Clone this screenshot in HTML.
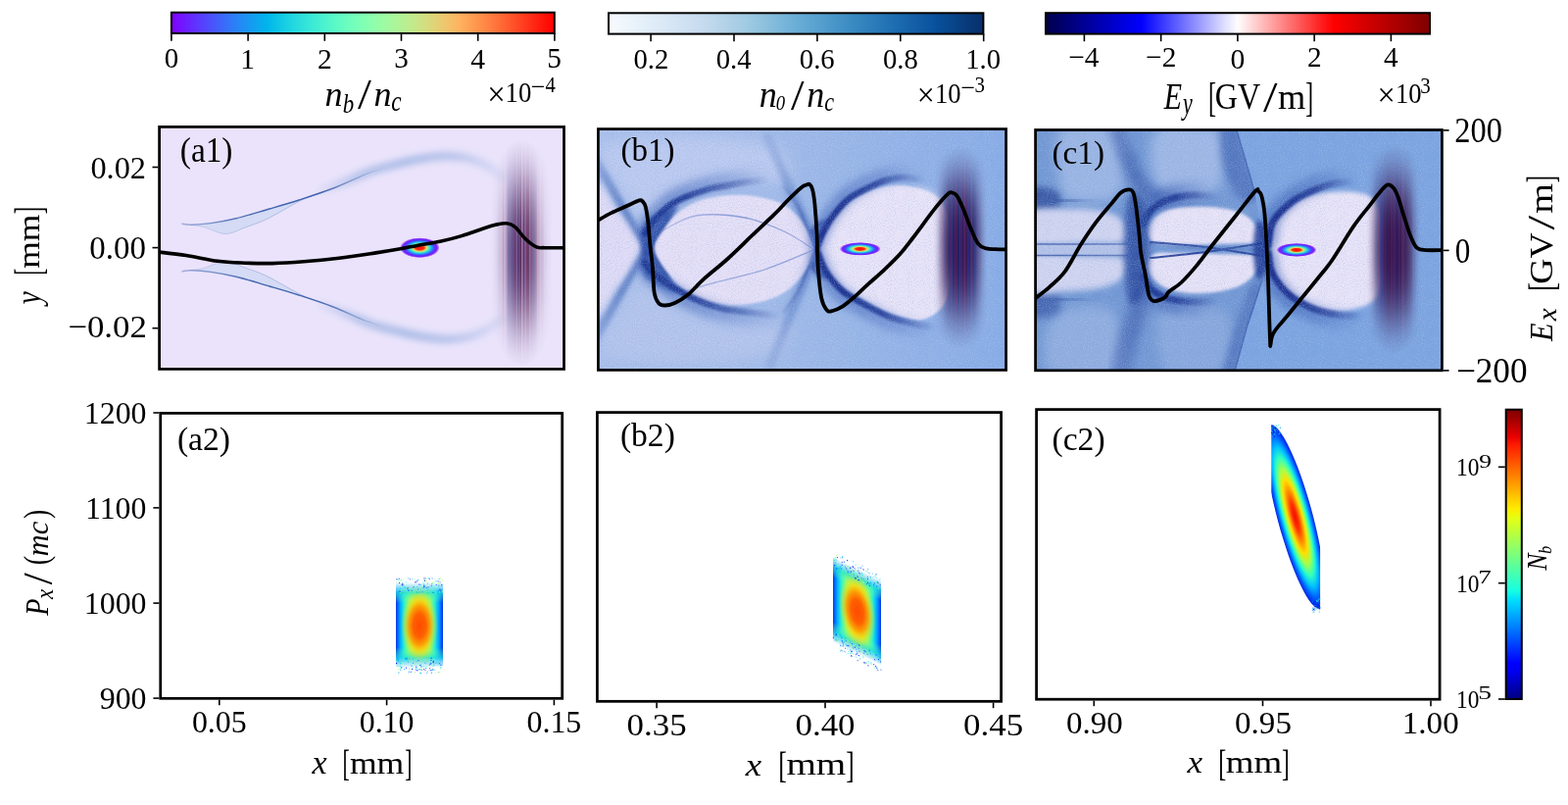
<!DOCTYPE html><html><head><meta charset="utf-8"><title>Figure</title><style>html,body{margin:0;padding:0;background:#fff;overflow:hidden}svg{display:block}</style></head><body>
<svg width="1600" height="821" viewBox="0 0 1600 821" font-family="'Liberation Serif', serif">
<defs>
<linearGradient id="g_rb" x1="0" y1="0" x2="1" y2="0"><stop offset="0.0000" stop-color="#8000ff"/><stop offset="0.0312" stop-color="#7019ff"/><stop offset="0.0625" stop-color="#6032fe"/><stop offset="0.0938" stop-color="#504afc"/><stop offset="0.1250" stop-color="#4062fa"/><stop offset="0.1562" stop-color="#3079f7"/><stop offset="0.1875" stop-color="#208ef4"/><stop offset="0.2188" stop-color="#10a2f0"/><stop offset="0.2500" stop-color="#00b5eb"/><stop offset="0.2812" stop-color="#10c6e6"/><stop offset="0.3125" stop-color="#20d5e1"/><stop offset="0.3438" stop-color="#30e1da"/><stop offset="0.3750" stop-color="#40ecd4"/><stop offset="0.4062" stop-color="#50f4cc"/><stop offset="0.4375" stop-color="#60fac5"/><stop offset="0.4688" stop-color="#70febc"/><stop offset="0.5000" stop-color="#80ffb4"/><stop offset="0.5312" stop-color="#90feab"/><stop offset="0.5625" stop-color="#a0faa1"/><stop offset="0.5938" stop-color="#b0f397"/><stop offset="0.6250" stop-color="#c0eb8d"/><stop offset="0.6562" stop-color="#d0e082"/><stop offset="0.6875" stop-color="#e0d377"/><stop offset="0.7188" stop-color="#f0c46c"/><stop offset="0.7500" stop-color="#ffb360"/><stop offset="0.7812" stop-color="#ffa055"/><stop offset="0.8125" stop-color="#ff8c49"/><stop offset="0.8438" stop-color="#ff763d"/><stop offset="0.8750" stop-color="#ff5f30"/><stop offset="0.9062" stop-color="#ff4724"/><stop offset="0.9375" stop-color="#ff2f18"/><stop offset="0.9688" stop-color="#ff160b"/><stop offset="1.0000" stop-color="#ff0000"/></linearGradient>
<linearGradient id="g_bl" x1="0" y1="0" x2="1" y2="0"><stop offset="0.0000" stop-color="#f7fbff"/><stop offset="0.0312" stop-color="#f1f7fd"/><stop offset="0.0625" stop-color="#eaf3fb"/><stop offset="0.0938" stop-color="#e4eff9"/><stop offset="0.1250" stop-color="#deebf7"/><stop offset="0.1562" stop-color="#d8e7f5"/><stop offset="0.1875" stop-color="#d2e3f3"/><stop offset="0.2188" stop-color="#ccdff1"/><stop offset="0.2500" stop-color="#c6dbef"/><stop offset="0.2812" stop-color="#bcd7eb"/><stop offset="0.3125" stop-color="#b2d2e8"/><stop offset="0.3438" stop-color="#a8cee4"/><stop offset="0.3750" stop-color="#9dcae1"/><stop offset="0.4062" stop-color="#91c3de"/><stop offset="0.4375" stop-color="#84bcdb"/><stop offset="0.4688" stop-color="#77b5d9"/><stop offset="0.5000" stop-color="#6aaed6"/><stop offset="0.5312" stop-color="#60a7d2"/><stop offset="0.5625" stop-color="#56a0ce"/><stop offset="0.5938" stop-color="#4b98ca"/><stop offset="0.6250" stop-color="#4191c6"/><stop offset="0.6562" stop-color="#3989c1"/><stop offset="0.6875" stop-color="#3181bd"/><stop offset="0.7188" stop-color="#2979b9"/><stop offset="0.7500" stop-color="#2070b4"/><stop offset="0.7812" stop-color="#1a68ae"/><stop offset="0.8125" stop-color="#1460a8"/><stop offset="0.8438" stop-color="#0e58a2"/><stop offset="0.8750" stop-color="#08509b"/><stop offset="0.9062" stop-color="#08488e"/><stop offset="0.9375" stop-color="#084082"/><stop offset="0.9688" stop-color="#083776"/><stop offset="1.0000" stop-color="#08306b"/></linearGradient>
<linearGradient id="g_se" x1="0" y1="0" x2="1" y2="0"><stop offset="0.0000" stop-color="#00004c"/><stop offset="0.0312" stop-color="#000063"/><stop offset="0.0625" stop-color="#000079"/><stop offset="0.0938" stop-color="#000090"/><stop offset="0.1250" stop-color="#0000a6"/><stop offset="0.1562" stop-color="#0000bc"/><stop offset="0.1875" stop-color="#0000d3"/><stop offset="0.2188" stop-color="#0000e9"/><stop offset="0.2500" stop-color="#0101ff"/><stop offset="0.2812" stop-color="#2121ff"/><stop offset="0.3125" stop-color="#4141ff"/><stop offset="0.3438" stop-color="#6161ff"/><stop offset="0.3750" stop-color="#8181ff"/><stop offset="0.4062" stop-color="#a1a1ff"/><stop offset="0.4375" stop-color="#c1c1ff"/><stop offset="0.4688" stop-color="#e1e1ff"/><stop offset="0.5000" stop-color="#fffdfd"/><stop offset="0.5312" stop-color="#ffdddd"/><stop offset="0.5625" stop-color="#ffbdbd"/><stop offset="0.5938" stop-color="#ff9d9d"/><stop offset="0.6250" stop-color="#ff7d7d"/><stop offset="0.6562" stop-color="#ff5d5d"/><stop offset="0.6875" stop-color="#ff3d3d"/><stop offset="0.7188" stop-color="#ff1d1d"/><stop offset="0.7500" stop-color="#fe0000"/><stop offset="0.7812" stop-color="#ee0000"/><stop offset="0.8125" stop-color="#de0000"/><stop offset="0.8438" stop-color="#ce0000"/><stop offset="0.8750" stop-color="#be0000"/><stop offset="0.9062" stop-color="#ae0000"/><stop offset="0.9375" stop-color="#9e0000"/><stop offset="0.9688" stop-color="#8e0000"/><stop offset="1.0000" stop-color="#800000"/></linearGradient>
<linearGradient id="g_jet" x1="0" y1="1" x2="0" y2="0"><stop offset="0.0000" stop-color="#000080"/><stop offset="0.0312" stop-color="#0000a4"/><stop offset="0.0625" stop-color="#0000c8"/><stop offset="0.0938" stop-color="#0000ed"/><stop offset="0.1250" stop-color="#0000ff"/><stop offset="0.1562" stop-color="#0020ff"/><stop offset="0.1875" stop-color="#0040ff"/><stop offset="0.2188" stop-color="#0060ff"/><stop offset="0.2500" stop-color="#0080ff"/><stop offset="0.2812" stop-color="#00a0ff"/><stop offset="0.3125" stop-color="#00c0ff"/><stop offset="0.3438" stop-color="#00e0fb"/><stop offset="0.3750" stop-color="#16ffe1"/><stop offset="0.4062" stop-color="#30ffc7"/><stop offset="0.4375" stop-color="#49ffad"/><stop offset="0.4688" stop-color="#63ff94"/><stop offset="0.5000" stop-color="#7dff7a"/><stop offset="0.5312" stop-color="#97ff60"/><stop offset="0.5625" stop-color="#b1ff46"/><stop offset="0.5938" stop-color="#caff2c"/><stop offset="0.6250" stop-color="#e4ff13"/><stop offset="0.6562" stop-color="#feed00"/><stop offset="0.6875" stop-color="#ffd000"/><stop offset="0.7188" stop-color="#ffb200"/><stop offset="0.7500" stop-color="#ff9400"/><stop offset="0.7812" stop-color="#ff7700"/><stop offset="0.8125" stop-color="#ff5900"/><stop offset="0.8438" stop-color="#ff3b00"/><stop offset="0.8750" stop-color="#ff1e00"/><stop offset="0.9062" stop-color="#e80000"/><stop offset="0.9375" stop-color="#c40000"/><stop offset="0.9688" stop-color="#9f0000"/><stop offset="1.0000" stop-color="#800000"/></linearGradient>
<clipPath id="cp_a1"><rect x="162.6" y="129.4" width="412.90" height="247.00"/></clipPath>
<clipPath id="cp_b1"><rect x="610.4" y="131.6" width="416.20" height="245.80"/></clipPath>
<clipPath id="cp_c1"><rect x="1056.6" y="132.5" width="414.80" height="245.30"/></clipPath>
<clipPath id="cp_a2"><rect x="163.75" y="421.4" width="409.95" height="290.90"/></clipPath>
<clipPath id="cp_b2"><rect x="609.4" y="420.6" width="412.20" height="294.70"/></clipPath>
<clipPath id="cp_c2"><rect x="1057.6" y="417.6" width="411.50" height="295.60"/></clipPath>
</defs>
<rect width="1600" height="821" fill="#fff"/>
<defs>
<filter id="bl0_6" x="-50%" y="-50%" width="200%" height="200%"><feGaussianBlur stdDeviation="0.6"/></filter>
<filter id="bl1" x="-50%" y="-50%" width="200%" height="200%"><feGaussianBlur stdDeviation="1"/></filter>
<filter id="bl1_5" x="-50%" y="-50%" width="200%" height="200%"><feGaussianBlur stdDeviation="1.5"/></filter>
<filter id="bl2" x="-50%" y="-50%" width="200%" height="200%"><feGaussianBlur stdDeviation="2"/></filter>
<filter id="bl3" x="-50%" y="-50%" width="200%" height="200%"><feGaussianBlur stdDeviation="3"/></filter>
<filter id="bl4" x="-50%" y="-50%" width="200%" height="200%"><feGaussianBlur stdDeviation="4"/></filter>
<filter id="bl5" x="-50%" y="-50%" width="200%" height="200%"><feGaussianBlur stdDeviation="5"/></filter>
<filter id="bl6" x="-50%" y="-50%" width="200%" height="200%"><feGaussianBlur stdDeviation="6"/></filter>
<filter id="bl8" x="-50%" y="-50%" width="200%" height="200%"><feGaussianBlur stdDeviation="8"/></filter>
<filter id="bl10" x="-50%" y="-50%" width="200%" height="200%"><feGaussianBlur stdDeviation="10"/></filter>
<filter id="bl14" x="-50%" y="-50%" width="200%" height="200%"><feGaussianBlur stdDeviation="14"/></filter>
<filter id="nzW" x="0" y="0" width="100%" height="100%"><feTurbulence type="fractalNoise" baseFrequency="0.95" numOctaves="1" seed="4"/><feColorMatrix type="matrix" values="0 0 0 0 0.82  0 0 0 0 0.88  0 0 0 0 1  3 0 0 0 -1.45"/><feGaussianBlur stdDeviation="0.5"/></filter>
<filter id="nzD" x="0" y="0" width="100%" height="100%"><feTurbulence type="fractalNoise" baseFrequency="0.95" numOctaves="1" seed="9"/><feColorMatrix type="matrix" values="0 0 0 0 0.2  0 0 0 0 0.35  0 0 0 0 0.7  -3 0 0 0 1.55"/><feGaussianBlur stdDeviation="0.5"/></filter>
</defs>
<g clip-path="url(#cp_a1)">
<rect x="162.6" y="129.4" width="412.9" height="246.99999999999997" fill="#eae3fb"/>
<linearGradient id="fa1" gradientUnits="userSpaceOnUse" x1="320" y1="197" x2="512" y2="180"><stop offset="0.000" stop-color="#a4b8e4" stop-opacity="0.0"/><stop offset="0.250" stop-color="#a4b8e4" stop-opacity="0.75"/><stop offset="0.500" stop-color="#a4b8e4" stop-opacity="0.85"/><stop offset="0.750" stop-color="#a4b8e4" stop-opacity="0.7"/><stop offset="1.000" stop-color="#a4b8e4" stop-opacity="0.2"/></linearGradient>
<path d="M320.0,197.0 C325.0,195.2 340.0,189.8 350.0,186.0 C360.0,182.2 370.0,177.3 380.0,174.0 C390.0,170.7 400.8,168.2 410.0,166.0 C419.2,163.8 427.2,162.2 435.0,161.0 C442.8,159.8 449.5,158.8 457.0,159.0 C464.5,159.2 473.3,160.3 480.0,162.0 C486.7,163.7 491.7,166.0 497.0,169.0 C502.3,172.0 509.5,178.2 512.0,180.0" fill="none" stroke="url(#fa1)" stroke-width="9" stroke-linecap="round" filter="url(#bl3)"/>
<linearGradient id="fa2" gradientUnits="userSpaceOnUse" x1="320" y1="308.0" x2="512" y2="325.0"><stop offset="0.000" stop-color="#a4b8e4" stop-opacity="0.0"/><stop offset="0.250" stop-color="#a4b8e4" stop-opacity="0.75"/><stop offset="0.500" stop-color="#a4b8e4" stop-opacity="0.85"/><stop offset="0.750" stop-color="#a4b8e4" stop-opacity="0.7"/><stop offset="1.000" stop-color="#a4b8e4" stop-opacity="0.2"/></linearGradient>
<path d="M320.0,308.0 C325.0,309.8 340.0,315.2 350.0,319.0 C360.0,322.8 370.0,327.7 380.0,331.0 C390.0,334.3 400.8,336.8 410.0,339.0 C419.2,341.2 427.2,342.8 435.0,344.0 C442.8,345.2 449.5,346.2 457.0,346.0 C464.5,345.8 473.3,344.7 480.0,343.0 C486.7,341.3 491.7,339.0 497.0,336.0 C502.3,333.0 509.5,326.8 512.0,325.0" fill="none" stroke="url(#fa2)" stroke-width="9" stroke-linecap="round" filter="url(#bl3)"/>
<path d="M186.0,228.2 C187.5,228.4 190.2,229.3 195.0,229.2 C199.8,229.1 207.3,228.7 215.0,227.6 C222.7,226.5 231.0,225.1 241.0,222.7 C251.0,220.3 264.3,216.1 275.0,213.0 C285.7,209.9 294.2,207.5 305.0,204.0 C315.8,200.5 328.8,196.3 340.0,192.0 C351.2,187.7 362.8,181.8 372.0,178.3 C381.2,174.8 391.2,172.2 395.0,171.0 L330.0,196.0 C326.3,197.3 317.5,199.5 308.0,204.0 C298.5,208.5 282.7,218.3 273.0,223.0 C263.3,227.7 257.2,229.4 250.0,232.0 C242.8,234.6 237.0,238.6 230.0,238.5 C223.0,238.4 213.8,233.1 208.0,231.6 C202.2,230.1 197.2,229.8 195.0,229.4 Z" fill="#d0d8f4" opacity="0.8"/>
<linearGradient id="fa3" gradientUnits="userSpaceOnUse" x1="330" y1="196" x2="195" y2="229.4"><stop offset="0.000" stop-color="#7890cc" stop-opacity="0.5"/><stop offset="0.500" stop-color="#7890cc" stop-opacity="0.6"/><stop offset="1.000" stop-color="#7890cc" stop-opacity="0.3"/></linearGradient>
<path d="M330.0,196.0 C326.3,197.3 317.5,199.5 308.0,204.0 C298.5,208.5 282.7,218.3 273.0,223.0 C263.3,227.7 257.2,229.4 250.0,232.0 C242.8,234.6 237.0,238.6 230.0,238.5 C223.0,238.4 213.8,233.1 208.0,231.6 C202.2,230.1 197.2,229.8 195.0,229.4" fill="none" stroke="url(#fa3)" stroke-width="0.8" stroke-linecap="round"/>
<linearGradient id="fa4" gradientUnits="userSpaceOnUse" x1="186" y1="228.2" x2="395" y2="171"><stop offset="0.000" stop-color="#3a5eac" stop-opacity="0.4"/><stop offset="0.333" stop-color="#3a5eac" stop-opacity="0.95"/><stop offset="0.667" stop-color="#3a5eac" stop-opacity="0.95"/><stop offset="1.000" stop-color="#3a5eac" stop-opacity="0.0"/></linearGradient>
<path d="M186.0,228.2 C187.5,228.4 190.2,229.3 195.0,229.2 C199.8,229.1 207.3,228.7 215.0,227.6 C222.7,226.5 231.0,225.1 241.0,222.7 C251.0,220.3 264.3,216.1 275.0,213.0 C285.7,209.9 294.2,207.5 305.0,204.0 C315.8,200.5 328.8,196.3 340.0,192.0 C351.2,187.7 362.8,181.8 372.0,178.3 C381.2,174.8 391.2,172.2 395.0,171.0" fill="none" stroke="url(#fa4)" stroke-width="1.4" stroke-linecap="round"/>
<path d="M186.0,276.8 C187.5,276.6 190.2,275.7 195.0,275.8 C199.8,275.9 207.3,276.3 215.0,277.4 C222.7,278.5 231.0,279.9 241.0,282.3 C251.0,284.7 264.3,288.9 275.0,292.0 C285.7,295.1 294.2,297.5 305.0,301.0 C315.8,304.5 328.8,308.7 340.0,313.0 C351.2,317.3 362.8,323.2 372.0,326.7 C381.2,330.2 391.2,332.8 395.0,334.0 L330.0,309.0 C326.3,307.7 317.5,305.5 308.0,301.0 C298.5,296.5 282.7,286.7 273.0,282.0 C263.3,277.3 257.2,275.6 250.0,273.0 C242.8,270.4 237.0,266.4 230.0,266.5 C223.0,266.6 213.8,271.9 208.0,273.4 C202.2,274.9 197.2,275.2 195.0,275.6 Z" fill="#d0d8f4" opacity="0.8"/>
<linearGradient id="fa5" gradientUnits="userSpaceOnUse" x1="330" y1="309.0" x2="195" y2="275.6"><stop offset="0.000" stop-color="#7890cc" stop-opacity="0.5"/><stop offset="0.500" stop-color="#7890cc" stop-opacity="0.6"/><stop offset="1.000" stop-color="#7890cc" stop-opacity="0.3"/></linearGradient>
<path d="M330.0,309.0 C326.3,307.7 317.5,305.5 308.0,301.0 C298.5,296.5 282.7,286.7 273.0,282.0 C263.3,277.3 257.2,275.6 250.0,273.0 C242.8,270.4 237.0,266.4 230.0,266.5 C223.0,266.6 213.8,271.9 208.0,273.4 C202.2,274.9 197.2,275.2 195.0,275.6" fill="none" stroke="url(#fa5)" stroke-width="0.8" stroke-linecap="round"/>
<linearGradient id="fa6" gradientUnits="userSpaceOnUse" x1="186" y1="276.8" x2="395" y2="334.0"><stop offset="0.000" stop-color="#3a5eac" stop-opacity="0.4"/><stop offset="0.333" stop-color="#3a5eac" stop-opacity="0.95"/><stop offset="0.667" stop-color="#3a5eac" stop-opacity="0.95"/><stop offset="1.000" stop-color="#3a5eac" stop-opacity="0.0"/></linearGradient>
<path d="M186.0,276.8 C187.5,276.6 190.2,275.7 195.0,275.8 C199.8,275.9 207.3,276.3 215.0,277.4 C222.7,278.5 231.0,279.9 241.0,282.3 C251.0,284.7 264.3,288.9 275.0,292.0 C285.7,295.1 294.2,297.5 305.0,301.0 C315.8,304.5 328.8,308.7 340.0,313.0 C351.2,317.3 362.8,323.2 372.0,326.7 C381.2,330.2 391.2,332.8 395.0,334.0" fill="none" stroke="url(#fa6)" stroke-width="1.4" stroke-linecap="round"/>
<linearGradient id="lgx_a1" x1="0" y1="0" x2="1" y2="0"><stop offset="0.000" stop-color="#fff" stop-opacity="0.000"/><stop offset="0.042" stop-color="#fff" stop-opacity="0.064"/><stop offset="0.083" stop-color="#fff" stop-opacity="0.151"/><stop offset="0.125" stop-color="#fff" stop-opacity="0.258"/><stop offset="0.167" stop-color="#fff" stop-opacity="0.382"/><stop offset="0.208" stop-color="#fff" stop-opacity="0.514"/><stop offset="0.250" stop-color="#fff" stop-opacity="0.645"/><stop offset="0.292" stop-color="#fff" stop-opacity="0.763"/><stop offset="0.333" stop-color="#fff" stop-opacity="0.860"/><stop offset="0.375" stop-color="#fff" stop-opacity="0.932"/><stop offset="0.417" stop-color="#fff" stop-opacity="0.976"/><stop offset="0.458" stop-color="#fff" stop-opacity="0.996"/><stop offset="0.500" stop-color="#fff" stop-opacity="1.000"/><stop offset="0.542" stop-color="#fff" stop-opacity="0.996"/><stop offset="0.583" stop-color="#fff" stop-opacity="0.976"/><stop offset="0.625" stop-color="#fff" stop-opacity="0.932"/><stop offset="0.667" stop-color="#fff" stop-opacity="0.860"/><stop offset="0.708" stop-color="#fff" stop-opacity="0.763"/><stop offset="0.750" stop-color="#fff" stop-opacity="0.645"/><stop offset="0.792" stop-color="#fff" stop-opacity="0.514"/><stop offset="0.833" stop-color="#fff" stop-opacity="0.382"/><stop offset="0.875" stop-color="#fff" stop-opacity="0.258"/><stop offset="0.917" stop-color="#fff" stop-opacity="0.151"/><stop offset="0.958" stop-color="#fff" stop-opacity="0.064"/><stop offset="1.000" stop-color="#fff" stop-opacity="0.000"/></linearGradient>
<radialGradient id="lgy_a1" cx="0.5" cy="0.5" r="0.5"><stop offset="0.000" stop-color="#fff" stop-opacity="1.000"/><stop offset="0.042" stop-color="#fff" stop-opacity="0.999"/><stop offset="0.083" stop-color="#fff" stop-opacity="0.994"/><stop offset="0.125" stop-color="#fff" stop-opacity="0.983"/><stop offset="0.167" stop-color="#fff" stop-opacity="0.967"/><stop offset="0.208" stop-color="#fff" stop-opacity="0.944"/><stop offset="0.250" stop-color="#fff" stop-opacity="0.915"/><stop offset="0.292" stop-color="#fff" stop-opacity="0.879"/><stop offset="0.333" stop-color="#fff" stop-opacity="0.836"/><stop offset="0.375" stop-color="#fff" stop-opacity="0.788"/><stop offset="0.417" stop-color="#fff" stop-opacity="0.735"/><stop offset="0.458" stop-color="#fff" stop-opacity="0.677"/><stop offset="0.500" stop-color="#fff" stop-opacity="0.617"/><stop offset="0.542" stop-color="#fff" stop-opacity="0.554"/><stop offset="0.583" stop-color="#fff" stop-opacity="0.490"/><stop offset="0.625" stop-color="#fff" stop-opacity="0.427"/><stop offset="0.667" stop-color="#fff" stop-opacity="0.365"/><stop offset="0.708" stop-color="#fff" stop-opacity="0.305"/><stop offset="0.750" stop-color="#fff" stop-opacity="0.249"/><stop offset="0.792" stop-color="#fff" stop-opacity="0.196"/><stop offset="0.833" stop-color="#fff" stop-opacity="0.147"/><stop offset="0.875" stop-color="#fff" stop-opacity="0.103"/><stop offset="0.917" stop-color="#fff" stop-opacity="0.064"/><stop offset="0.958" stop-color="#fff" stop-opacity="0.030"/><stop offset="1.000" stop-color="#fff" stop-opacity="0.000"/></radialGradient>
<mask id="lmx_a1" maskUnits="userSpaceOnUse" x="500" y="142" width="64" height="232"><rect x="500" y="142" width="64" height="232" fill="url(#lgx_a1)"/></mask>
<mask id="lmy_a1" maskUnits="userSpaceOnUse" x="488.8" y="142" width="86.4" height="232"><rect x="488.8" y="142" width="86.4" height="232" fill="url(#lgy_a1)"/></mask>
<g mask="url(#lmx_a1)"><g mask="url(#lmy_a1)" opacity="0.95">
<rect x="500" y="142" width="64" height="232" fill="#3e2660"/>
<rect x="500.00" y="142" width="0.96" height="232" fill="#a05070" opacity="0.65"/>
<rect x="500.96" y="142" width="0.84" height="232" fill="#6a3a80" opacity="0.65"/>
<rect x="501.81" y="142" width="1.39" height="232" fill="#7a2a50" opacity="0.65"/>
<rect x="503.19" y="142" width="1.37" height="232" fill="#6a3a80" opacity="0.65"/>
<rect x="504.56" y="142" width="0.99" height="232" fill="#5a2050" opacity="0.65"/>
<rect x="505.54" y="142" width="0.91" height="232" fill="#6a3a80" opacity="0.65"/>
<rect x="506.46" y="142" width="1.30" height="232" fill="#a05070" opacity="0.65"/>
<rect x="507.75" y="142" width="1.22" height="232" fill="#3a3a88" opacity="0.65"/>
<rect x="508.97" y="142" width="0.96" height="232" fill="#3a3a88" opacity="0.65"/>
<rect x="509.93" y="142" width="1.65" height="232" fill="#a05070" opacity="0.65"/>
<rect x="511.58" y="142" width="1.13" height="232" fill="#d090c0" opacity="0.65"/>
<rect x="512.71" y="142" width="1.44" height="232" fill="#7a2a50" opacity="0.65"/>
<rect x="514.15" y="142" width="0.88" height="232" fill="#d090c0" opacity="0.65"/>
<rect x="515.03" y="142" width="1.03" height="232" fill="#d090c0" opacity="0.65"/>
<rect x="516.06" y="142" width="1.61" height="232" fill="#9a6aa8" opacity="0.65"/>
<rect x="517.67" y="142" width="1.22" height="232" fill="#2a2a70" opacity="0.65"/>
<rect x="518.89" y="142" width="1.49" height="232" fill="#2a2a70" opacity="0.65"/>
<rect x="520.37" y="142" width="1.13" height="232" fill="#6a3a80" opacity="0.65"/>
<rect x="521.51" y="142" width="1.76" height="232" fill="#3a3a88" opacity="0.65"/>
<rect x="523.27" y="142" width="1.67" height="232" fill="#7a2a50" opacity="0.65"/>
<rect x="524.93" y="142" width="0.74" height="232" fill="#6a3a80" opacity="0.65"/>
<rect x="525.67" y="142" width="0.94" height="232" fill="#2a2a70" opacity="0.65"/>
<rect x="526.61" y="142" width="1.56" height="232" fill="#9a6aa8" opacity="0.65"/>
<rect x="528.17" y="142" width="1.16" height="232" fill="#2a2a70" opacity="0.65"/>
<rect x="529.33" y="142" width="1.33" height="232" fill="#a05070" opacity="0.65"/>
<rect x="530.66" y="142" width="1.34" height="232" fill="#5a2050" opacity="0.65"/>
<rect x="532.01" y="142" width="1.69" height="232" fill="#d090c0" opacity="0.65"/>
<rect x="533.70" y="142" width="1.64" height="232" fill="#3a3a88" opacity="0.65"/>
<rect x="535.34" y="142" width="1.47" height="232" fill="#c07098" opacity="0.65"/>
<rect x="536.81" y="142" width="1.76" height="232" fill="#7a2a50" opacity="0.65"/>
<rect x="538.57" y="142" width="1.49" height="232" fill="#5a2050" opacity="0.65"/>
<rect x="540.06" y="142" width="1.40" height="232" fill="#9a6aa8" opacity="0.65"/>
<rect x="541.45" y="142" width="1.01" height="232" fill="#7a2a50" opacity="0.65"/>
<rect x="542.47" y="142" width="1.23" height="232" fill="#6a3a80" opacity="0.65"/>
<rect x="543.70" y="142" width="0.80" height="232" fill="#7a2a50" opacity="0.65"/>
<rect x="544.49" y="142" width="1.15" height="232" fill="#3a3a88" opacity="0.65"/>
<rect x="545.65" y="142" width="0.72" height="232" fill="#2a2a70" opacity="0.65"/>
<rect x="546.37" y="142" width="1.55" height="232" fill="#7a2a50" opacity="0.65"/>
<rect x="547.91" y="142" width="0.75" height="232" fill="#d090c0" opacity="0.65"/>
<rect x="548.66" y="142" width="1.12" height="232" fill="#c07098" opacity="0.65"/>
<rect x="549.78" y="142" width="1.31" height="232" fill="#9a6aa8" opacity="0.65"/>
<rect x="551.08" y="142" width="1.26" height="232" fill="#d090c0" opacity="0.65"/>
<rect x="552.34" y="142" width="1.04" height="232" fill="#7a2a50" opacity="0.65"/>
<rect x="553.38" y="142" width="0.82" height="232" fill="#a05070" opacity="0.65"/>
<rect x="554.20" y="142" width="0.73" height="232" fill="#5a2050" opacity="0.65"/>
<rect x="554.93" y="142" width="1.77" height="232" fill="#9a6aa8" opacity="0.65"/>
<rect x="556.70" y="142" width="1.37" height="232" fill="#3a3a88" opacity="0.65"/>
<rect x="558.07" y="142" width="1.46" height="232" fill="#c07098" opacity="0.65"/>
<rect x="559.53" y="142" width="1.05" height="232" fill="#3a3a88" opacity="0.65"/>
<rect x="560.58" y="142" width="1.69" height="232" fill="#2a2a70" opacity="0.65"/>
<rect x="562.26" y="142" width="1.11" height="232" fill="#a05070" opacity="0.65"/>
<rect x="563.38" y="142" width="1.12" height="232" fill="#a05070" opacity="0.65"/>
</g></g>
<radialGradient id="bm7" cx="0.5" cy="0.5" r="0.5"><stop offset="0" stop-color="#ff0a00"/><stop offset="0.22" stop-color="#ff2a10"/><stop offset="0.34" stop-color="#e8d860"/><stop offset="0.46" stop-color="#50f0c0"/><stop offset="0.58" stop-color="#20b0f0"/><stop offset="0.72" stop-color="#4848ff"/><stop offset="0.86" stop-color="#7818ff"/><stop offset="0.95" stop-color="#9a40ff" stop-opacity="0.6"/><stop offset="1" stop-color="#c080ff" stop-opacity="0"/></radialGradient>
<ellipse cx="428.3" cy="252.7" rx="20.3" ry="10.4" fill="url(#bm7)"/>
<path d="M160.0,256.8 C165.0,257.4 179.7,258.9 190.0,260.5 C200.3,262.1 212.0,265.0 222.0,266.3 C232.0,267.6 240.7,267.8 250.0,268.2 C259.3,268.6 268.0,268.8 278.0,268.6 C288.0,268.4 298.7,267.7 310.0,266.8 C321.3,265.9 333.5,264.7 346.0,263.2 C358.5,261.7 374.3,259.2 385.0,257.6 C395.7,256.0 403.2,254.7 410.0,253.5 C416.8,252.3 419.1,251.6 425.6,250.4 C432.1,249.2 441.4,247.8 449.0,246.2 C456.6,244.6 461.8,243.4 471.0,240.6 C480.2,237.8 496.8,231.7 504.5,229.6 C512.2,227.5 513.5,227.5 517.0,227.8 C520.5,228.1 522.3,228.8 525.5,231.4 C528.7,234.0 532.4,240.1 536.0,243.5 C539.6,246.9 544.0,250.3 547.3,251.8 C550.6,253.3 550.5,252.5 556.0,252.7 C561.5,252.8 576.0,252.7 580.0,252.7" fill="none" stroke="#000" stroke-width="3.6" stroke-linejoin="round" stroke-linecap="butt"/>
</g>
<g clip-path="url(#cp_b1)">
<linearGradient id="b1base" x1="0" y1="0" x2="1" y2="0"><stop offset="0" stop-color="#a8bfea"/><stop offset="0.45" stop-color="#a0bae8"/><stop offset="1" stop-color="#88ace6"/></linearGradient>
<rect x="610.4" y="131.6" width="416.19999999999993" height="245.79999999999998" fill="url(#b1base)"/>
<path d="M612.0,150.0 C623.7,141.3 670.3,138.0 700.0,138.0 C729.7,138.0 773.3,142.2 790.0,150.0 C806.7,157.8 808.3,179.7 800.0,185.0 C791.7,190.3 758.3,179.5 740.0,182.0 C721.7,184.5 703.3,192.8 690.0,200.0 C676.7,207.2 670.0,226.7 660.0,225.0 C650.0,223.3 638.0,202.5 630.0,190.0 C622.0,177.5 600.3,158.7 612.0,150.0 Z" fill="#bccaf0" opacity="1.0" filter="url(#bl8)"/>
<path d="M612.0,360.0 C623.7,368.7 670.3,372.0 700.0,372.0 C729.7,372.0 773.3,367.0 790.0,360.0 C806.7,353.0 808.3,335.3 800.0,330.0 C791.7,324.7 758.3,331.3 740.0,328.0 C721.7,324.7 703.3,317.2 690.0,310.0 C676.7,302.8 670.0,283.3 660.0,285.0 C650.0,286.7 638.0,307.5 630.0,320.0 C622.0,332.5 600.3,351.3 612.0,360.0 Z" fill="#b4c4ec" opacity="1.0" filter="url(#bl8)"/>
<linearGradient id="fa8" gradientUnits="userSpaceOnUse" x1="834" y1="254" x2="783" y2="140"><stop offset="0.000" stop-color="#4a6ebc" stop-opacity="0.5"/><stop offset="0.500" stop-color="#4a6ebc" stop-opacity="0.4"/><stop offset="1.000" stop-color="#4a6ebc" stop-opacity="0.175"/></linearGradient>
<path d="M834.0,254.0 L783.0,140.0" fill="none" stroke="url(#fa8)" stroke-width="9" stroke-linecap="round" filter="url(#bl2)"/>
<linearGradient id="fa9" gradientUnits="userSpaceOnUse" x1="834" y1="254" x2="786" y2="372"><stop offset="0.000" stop-color="#4a6ebc" stop-opacity="0.5"/><stop offset="0.500" stop-color="#4a6ebc" stop-opacity="0.4"/><stop offset="1.000" stop-color="#4a6ebc" stop-opacity="0.175"/></linearGradient>
<path d="M834.0,254.0 L786.0,372.0" fill="none" stroke="url(#fa9)" stroke-width="9" stroke-linecap="round" filter="url(#bl2)"/>
<linearGradient id="fa10" gradientUnits="userSpaceOnUse" x1="658" y1="253" x2="606" y2="160"><stop offset="0.000" stop-color="#4a6ebc" stop-opacity="0.85"/><stop offset="0.500" stop-color="#4a6ebc" stop-opacity="0.68"/><stop offset="1.000" stop-color="#4a6ebc" stop-opacity="0.2975"/></linearGradient>
<path d="M658.0,253.0 L606.0,160.0" fill="none" stroke="url(#fa10)" stroke-width="9" stroke-linecap="round" filter="url(#bl2)"/>
<linearGradient id="fa11" gradientUnits="userSpaceOnUse" x1="658" y1="253" x2="606" y2="348"><stop offset="0.000" stop-color="#4a6ebc" stop-opacity="0.85"/><stop offset="0.500" stop-color="#4a6ebc" stop-opacity="0.68"/><stop offset="1.000" stop-color="#4a6ebc" stop-opacity="0.2975"/></linearGradient>
<path d="M658.0,253.0 L606.0,348.0" fill="none" stroke="url(#fa11)" stroke-width="9" stroke-linecap="round" filter="url(#bl2)"/>
<path d="M605.0,190.0 C609.2,172.8 622.8,206.7 630.0,215.0 C637.2,223.3 644.2,233.7 648.0,240.0 C651.8,246.3 653.0,248.7 653.0,253.0 C653.0,257.3 651.8,259.5 648.0,266.0 C644.2,272.5 637.2,283.3 630.0,292.0 C622.8,300.7 609.2,335.0 605.0,318.0 C600.8,301.0 600.8,207.2 605.0,190.0 Z" fill="#e0dcf6" opacity="1.0" filter="url(#bl3)"/>
<path d="M652,236 L660,224 L676,214 L692,208 L684,228 L670,254 L684,280 L692,300 L676,294 L660,284 L652,272 L656,254 Z" fill="#2c48a2" opacity="0.92" filter="url(#bl2)"/>
<path d="M826,236 L834,226 L846,222 L842,240 L838,254 L842,268 L846,286 L834,282 L826,272 L830,254 Z" fill="#2c48a2" opacity="0.85" filter="url(#bl1_5)"/>
<path d="M668.0,254.0 C667.3,246.3 673.8,239.3 678.0,233.0 C682.2,226.7 686.8,220.8 693.0,216.0 C699.2,211.2 706.3,206.8 715.0,204.0 C723.7,201.2 735.0,199.5 745.0,199.0 C755.0,198.5 765.8,199.3 775.0,201.0 C784.2,202.7 792.8,204.8 800.0,209.0 C807.2,213.2 812.7,218.5 818.0,226.0 C823.3,233.5 831.3,245.7 832.0,254.0 C832.7,262.3 826.5,269.2 822.0,276.0 C817.5,282.8 812.0,289.8 805.0,295.0 C798.0,300.2 789.2,304.3 780.0,307.0 C770.8,309.7 759.7,311.0 750.0,311.0 C740.3,311.0 730.3,309.3 722.0,307.0 C713.7,304.7 706.7,301.7 700.0,297.0 C693.3,292.3 687.3,286.2 682.0,279.0 C676.7,271.8 668.7,261.7 668.0,254.0 Z" fill="#e6e0f7" opacity="1.0" filter="url(#bl1)"/>
<path d="M836.0,254.0 C835.7,247.8 838.3,243.5 841.0,238.0 C843.7,232.5 847.5,226.5 852.0,221.0 C856.5,215.5 861.3,209.7 868.0,205.0 C874.7,200.3 883.7,195.7 892.0,193.0 C900.3,190.3 910.0,189.0 918.0,189.0 C926.0,189.0 933.3,190.7 940.0,193.0 C946.7,195.3 953.3,197.5 958.0,203.0 C962.7,208.5 965.7,217.5 968.0,226.0 C970.3,234.5 971.7,244.2 972.0,254.0 C972.3,263.8 971.7,275.3 970.0,285.0 C968.3,294.7 967.0,305.2 962.0,312.0 C957.0,318.8 948.7,324.7 940.0,326.0 C931.3,327.3 919.2,323.0 910.0,320.0 C900.8,317.0 893.3,312.5 885.0,308.0 C876.7,303.5 867.0,298.5 860.0,293.0 C853.0,287.5 847.0,281.5 843.0,275.0 C839.0,268.5 836.3,260.2 836.0,254.0 Z" fill="#e9e4f8" opacity="1.0" filter="url(#bl1)"/>
<path d="M930.0,196.0 C935.0,187.0 948.7,195.2 955.0,200.0 C961.3,204.8 965.2,216.0 968.0,225.0 C970.8,234.0 972.0,243.2 972.0,254.0 C972.0,264.8 970.8,280.3 968.0,290.0 C965.2,299.7 961.3,307.3 955.0,312.0 C948.7,316.7 935.0,327.7 930.0,318.0 C925.0,308.3 925.0,274.3 925.0,254.0 C925.0,233.7 925.0,205.0 930.0,196.0 Z" fill="#e9e4f8" opacity="0.9" filter="url(#bl4)"/>
<linearGradient id="fa12" gradientUnits="userSpaceOnUse" x1="658" y1="233" x2="784" y2="178"><stop offset="0.000" stop-color="#4a6cbe" stop-opacity="0.6"/><stop offset="0.333" stop-color="#4a6cbe" stop-opacity="0.57"/><stop offset="0.667" stop-color="#4a6cbe" stop-opacity="0.33"/><stop offset="1.000" stop-color="#4a6cbe" stop-opacity="0.0"/></linearGradient>
<path d="M658.0,233.0 C659.7,230.7 663.2,224.2 668.0,219.0 C672.8,213.8 678.5,207.0 687.0,202.0 C695.5,197.0 709.7,192.0 719.0,189.0 C728.3,186.0 736.3,185.3 743.0,184.0 C749.7,182.7 752.2,182.0 759.0,181.0 C765.8,180.0 779.8,178.5 784.0,178.0" fill="none" stroke="url(#fa12)" stroke-width="16.900000000000002" stroke-linecap="round" filter="url(#bl4)"/>
<linearGradient id="fa13" gradientUnits="userSpaceOnUse" x1="658" y1="238" x2="784" y2="183"><stop offset="0.000" stop-color="#1e3894" stop-opacity="1"/><stop offset="0.333" stop-color="#1e3894" stop-opacity="0.95"/><stop offset="0.667" stop-color="#1e3894" stop-opacity="0.55"/><stop offset="1.000" stop-color="#1e3894" stop-opacity="0"/></linearGradient>
<path d="M658.0,238.0 C659.7,235.7 663.2,229.2 668.0,224.0 C672.8,218.8 678.5,212.0 687.0,207.0 C695.5,202.0 709.7,197.0 719.0,194.0 C728.3,191.0 736.3,190.3 743.0,189.0 C749.7,187.7 752.2,187.0 759.0,186.0 C765.8,185.0 779.8,183.5 784.0,183.0" fill="none" stroke="url(#fa13)" stroke-width="6.5" stroke-linecap="round" filter="url(#bl1)"/>
<linearGradient id="fa14" gradientUnits="userSpaceOnUse" x1="658" y1="273" x2="796" y2="328"><stop offset="0.000" stop-color="#4a6cbe" stop-opacity="0.6"/><stop offset="0.333" stop-color="#4a6cbe" stop-opacity="0.57"/><stop offset="0.667" stop-color="#4a6cbe" stop-opacity="0.33"/><stop offset="1.000" stop-color="#4a6cbe" stop-opacity="0.0"/></linearGradient>
<path d="M658.0,273.0 C659.3,274.7 661.7,279.2 666.0,283.0 C670.3,286.8 676.8,291.5 684.0,296.0 C691.2,300.5 700.7,306.2 709.0,310.0 C717.3,313.8 727.0,317.0 734.0,319.0 C741.0,321.0 744.0,321.0 751.0,322.0 C758.0,323.0 768.5,324.0 776.0,325.0 C783.5,326.0 792.7,327.5 796.0,328.0" fill="none" stroke="url(#fa14)" stroke-width="16.900000000000002" stroke-linecap="round" filter="url(#bl4)"/>
<linearGradient id="fa15" gradientUnits="userSpaceOnUse" x1="658" y1="268" x2="796" y2="323"><stop offset="0.000" stop-color="#1e3894" stop-opacity="1"/><stop offset="0.333" stop-color="#1e3894" stop-opacity="0.95"/><stop offset="0.667" stop-color="#1e3894" stop-opacity="0.55"/><stop offset="1.000" stop-color="#1e3894" stop-opacity="0"/></linearGradient>
<path d="M658.0,268.0 C659.3,269.7 661.7,274.2 666.0,278.0 C670.3,281.8 676.8,286.5 684.0,291.0 C691.2,295.5 700.7,301.2 709.0,305.0 C717.3,308.8 727.0,312.0 734.0,314.0 C741.0,316.0 744.0,316.0 751.0,317.0 C758.0,318.0 768.5,319.0 776.0,320.0 C783.5,321.0 792.7,322.5 796.0,323.0" fill="none" stroke="url(#fa15)" stroke-width="6.5" stroke-linecap="round" filter="url(#bl1)"/>
<linearGradient id="fa16" gradientUnits="userSpaceOnUse" x1="834" y1="247" x2="944" y2="178"><stop offset="0.000" stop-color="#4a6cbe" stop-opacity="0.6"/><stop offset="0.333" stop-color="#4a6cbe" stop-opacity="0.6"/><stop offset="0.667" stop-color="#4a6cbe" stop-opacity="0.44999999999999996"/><stop offset="1.000" stop-color="#4a6cbe" stop-opacity="0.0"/></linearGradient>
<path d="M834.0,247.0 C835.0,244.5 837.2,237.5 840.0,232.0 C842.8,226.5 846.5,219.8 851.0,214.0 C855.5,208.2 860.3,202.0 867.0,197.0 C873.7,192.0 884.3,187.2 891.0,184.0 C897.7,180.8 901.8,179.3 907.0,178.0 C912.2,176.7 915.8,176.0 922.0,176.0 C928.2,176.0 940.3,177.7 944.0,178.0" fill="none" stroke="url(#fa16)" stroke-width="16.900000000000002" stroke-linecap="round" filter="url(#bl4)"/>
<linearGradient id="fa17" gradientUnits="userSpaceOnUse" x1="834" y1="252" x2="944" y2="183"><stop offset="0.000" stop-color="#1a3290" stop-opacity="1"/><stop offset="0.333" stop-color="#1a3290" stop-opacity="1"/><stop offset="0.667" stop-color="#1a3290" stop-opacity="0.75"/><stop offset="1.000" stop-color="#1a3290" stop-opacity="0"/></linearGradient>
<path d="M834.0,252.0 C835.0,249.5 837.2,242.5 840.0,237.0 C842.8,231.5 846.5,224.8 851.0,219.0 C855.5,213.2 860.3,207.0 867.0,202.0 C873.7,197.0 884.3,192.2 891.0,189.0 C897.7,185.8 901.8,184.3 907.0,183.0 C912.2,181.7 915.8,181.0 922.0,181.0 C928.2,181.0 940.3,182.7 944.0,183.0" fill="none" stroke="url(#fa17)" stroke-width="6.5" stroke-linecap="round" filter="url(#bl1)"/>
<linearGradient id="fa18" gradientUnits="userSpaceOnUse" x1="834" y1="261" x2="955" y2="339"><stop offset="0.000" stop-color="#4a6cbe" stop-opacity="0.6"/><stop offset="0.333" stop-color="#4a6cbe" stop-opacity="0.6"/><stop offset="0.667" stop-color="#4a6cbe" stop-opacity="0.44999999999999996"/><stop offset="1.000" stop-color="#4a6cbe" stop-opacity="0.0"/></linearGradient>
<path d="M834.0,261.0 C835.5,264.5 838.7,275.2 843.0,282.0 C847.3,288.8 853.0,296.2 860.0,302.0 C867.0,307.8 876.7,312.5 885.0,317.0 C893.3,321.5 901.5,325.8 910.0,329.0 C918.5,332.2 928.5,334.3 936.0,336.0 C943.5,337.7 951.8,338.5 955.0,339.0" fill="none" stroke="url(#fa18)" stroke-width="16.900000000000002" stroke-linecap="round" filter="url(#bl4)"/>
<linearGradient id="fa19" gradientUnits="userSpaceOnUse" x1="834" y1="256" x2="955" y2="334"><stop offset="0.000" stop-color="#1a3290" stop-opacity="1"/><stop offset="0.333" stop-color="#1a3290" stop-opacity="1"/><stop offset="0.667" stop-color="#1a3290" stop-opacity="0.75"/><stop offset="1.000" stop-color="#1a3290" stop-opacity="0"/></linearGradient>
<path d="M834.0,256.0 C835.5,259.5 838.7,270.2 843.0,277.0 C847.3,283.8 853.0,291.2 860.0,297.0 C867.0,302.8 876.7,307.5 885.0,312.0 C893.3,316.5 901.5,320.8 910.0,324.0 C918.5,327.2 928.5,329.3 936.0,331.0 C943.5,332.7 951.8,333.5 955.0,334.0" fill="none" stroke="url(#fa19)" stroke-width="6.5" stroke-linecap="round" filter="url(#bl1)"/>
<linearGradient id="fa20" gradientUnits="userSpaceOnUse" x1="800" y1="190" x2="831" y2="250"><stop offset="0.000" stop-color="#4a6cbe" stop-opacity="0.12"/><stop offset="0.500" stop-color="#4a6cbe" stop-opacity="0.36"/><stop offset="1.000" stop-color="#4a6cbe" stop-opacity="0.51"/></linearGradient>
<path d="M800.0,190.0 C802.5,193.7 809.8,202.0 815.0,212.0 C820.2,222.0 828.3,243.7 831.0,250.0" fill="none" stroke="url(#fa20)" stroke-width="6.760000000000001" stroke-linecap="round" filter="url(#bl4)"/>
<linearGradient id="fa21" gradientUnits="userSpaceOnUse" x1="800" y1="190" x2="831" y2="250"><stop offset="0.000" stop-color="#3a5aae" stop-opacity="0.2"/><stop offset="0.500" stop-color="#3a5aae" stop-opacity="0.6"/><stop offset="1.000" stop-color="#3a5aae" stop-opacity="0.85"/></linearGradient>
<path d="M800.0,190.0 C802.5,193.7 809.8,202.0 815.0,212.0 C820.2,222.0 828.3,243.7 831.0,250.0" fill="none" stroke="url(#fa21)" stroke-width="2.6" stroke-linecap="round" filter="url(#bl1)"/>
<linearGradient id="fa22" gradientUnits="userSpaceOnUse" x1="800" y1="318" x2="831" y2="258"><stop offset="0.000" stop-color="#4a6cbe" stop-opacity="0.12"/><stop offset="0.500" stop-color="#4a6cbe" stop-opacity="0.36"/><stop offset="1.000" stop-color="#4a6cbe" stop-opacity="0.51"/></linearGradient>
<path d="M800.0,318.0 C802.5,314.3 809.8,306.0 815.0,296.0 C820.2,286.0 828.3,264.3 831.0,258.0" fill="none" stroke="url(#fa22)" stroke-width="6.760000000000001" stroke-linecap="round" filter="url(#bl4)"/>
<linearGradient id="fa23" gradientUnits="userSpaceOnUse" x1="800" y1="318" x2="831" y2="258"><stop offset="0.000" stop-color="#3a5aae" stop-opacity="0.2"/><stop offset="0.500" stop-color="#3a5aae" stop-opacity="0.6"/><stop offset="1.000" stop-color="#3a5aae" stop-opacity="0.85"/></linearGradient>
<path d="M800.0,318.0 C802.5,314.3 809.8,306.0 815.0,296.0 C820.2,286.0 828.3,264.3 831.0,258.0" fill="none" stroke="url(#fa23)" stroke-width="2.6" stroke-linecap="round" filter="url(#bl1)"/>
<linearGradient id="fa24" gradientUnits="userSpaceOnUse" x1="675" y1="236" x2="830" y2="254"><stop offset="0.000" stop-color="#5a78c4" stop-opacity="0.3"/><stop offset="0.500" stop-color="#5a78c4" stop-opacity="0.7"/><stop offset="1.000" stop-color="#5a78c4" stop-opacity="0.5"/></linearGradient>
<path d="M675.0,236.0 C680.8,233.3 695.8,222.3 710.0,220.0 C724.2,217.7 745.0,219.3 760.0,222.0 C775.0,224.7 788.3,230.7 800.0,236.0 C811.7,241.3 825.0,251.0 830.0,254.0" fill="none" stroke="url(#fa24)" stroke-width="1.3" stroke-linecap="round"/>
<linearGradient id="fa25" gradientUnits="userSpaceOnUse" x1="690" y1="300" x2="830" y2="255"><stop offset="0.000" stop-color="#5a78c4" stop-opacity="0.3"/><stop offset="0.500" stop-color="#5a78c4" stop-opacity="0.6"/><stop offset="1.000" stop-color="#5a78c4" stop-opacity="0.6"/></linearGradient>
<path d="M690.0,300.0 C696.7,298.0 715.0,292.2 730.0,288.0 C745.0,283.8 763.3,280.5 780.0,275.0 C796.7,269.5 821.7,258.3 830.0,255.0" fill="none" stroke="url(#fa25)" stroke-width="1.3" stroke-linecap="round"/>
<rect x="610.4" y="131.6" width="416.19999999999993" height="245.79999999999998" filter="url(#nzW)" opacity="0.22"/>
<rect x="610.4" y="131.6" width="416.19999999999993" height="245.79999999999998" filter="url(#nzD)" opacity="0.3"/>
<linearGradient id="lgx_b1" x1="0" y1="0" x2="1" y2="0"><stop offset="0.000" stop-color="#fff" stop-opacity="0.000"/><stop offset="0.042" stop-color="#fff" stop-opacity="0.096"/><stop offset="0.083" stop-color="#fff" stop-opacity="0.258"/><stop offset="0.125" stop-color="#fff" stop-opacity="0.459"/><stop offset="0.167" stop-color="#fff" stop-opacity="0.653"/><stop offset="0.208" stop-color="#fff" stop-opacity="0.804"/><stop offset="0.250" stop-color="#fff" stop-opacity="0.905"/><stop offset="0.292" stop-color="#fff" stop-opacity="0.961"/><stop offset="0.333" stop-color="#fff" stop-opacity="0.987"/><stop offset="0.375" stop-color="#fff" stop-opacity="0.997"/><stop offset="0.417" stop-color="#fff" stop-opacity="1.000"/><stop offset="0.458" stop-color="#fff" stop-opacity="1.000"/><stop offset="0.500" stop-color="#fff" stop-opacity="1.000"/><stop offset="0.542" stop-color="#fff" stop-opacity="1.000"/><stop offset="0.583" stop-color="#fff" stop-opacity="1.000"/><stop offset="0.625" stop-color="#fff" stop-opacity="0.997"/><stop offset="0.667" stop-color="#fff" stop-opacity="0.987"/><stop offset="0.708" stop-color="#fff" stop-opacity="0.961"/><stop offset="0.750" stop-color="#fff" stop-opacity="0.905"/><stop offset="0.792" stop-color="#fff" stop-opacity="0.804"/><stop offset="0.833" stop-color="#fff" stop-opacity="0.653"/><stop offset="0.875" stop-color="#fff" stop-opacity="0.459"/><stop offset="0.917" stop-color="#fff" stop-opacity="0.258"/><stop offset="0.958" stop-color="#fff" stop-opacity="0.096"/><stop offset="1.000" stop-color="#fff" stop-opacity="0.000"/></linearGradient>
<radialGradient id="lgy_b1" cx="0.5" cy="0.5" r="0.5"><stop offset="0.000" stop-color="#fff" stop-opacity="1.000"/><stop offset="0.042" stop-color="#fff" stop-opacity="1.000"/><stop offset="0.083" stop-color="#fff" stop-opacity="0.998"/><stop offset="0.125" stop-color="#fff" stop-opacity="0.995"/><stop offset="0.167" stop-color="#fff" stop-opacity="0.988"/><stop offset="0.208" stop-color="#fff" stop-opacity="0.977"/><stop offset="0.250" stop-color="#fff" stop-opacity="0.960"/><stop offset="0.292" stop-color="#fff" stop-opacity="0.937"/><stop offset="0.333" stop-color="#fff" stop-opacity="0.907"/><stop offset="0.375" stop-color="#fff" stop-opacity="0.870"/><stop offset="0.417" stop-color="#fff" stop-opacity="0.826"/><stop offset="0.458" stop-color="#fff" stop-opacity="0.775"/><stop offset="0.500" stop-color="#fff" stop-opacity="0.717"/><stop offset="0.542" stop-color="#fff" stop-opacity="0.654"/><stop offset="0.583" stop-color="#fff" stop-opacity="0.586"/><stop offset="0.625" stop-color="#fff" stop-opacity="0.515"/><stop offset="0.667" stop-color="#fff" stop-opacity="0.443"/><stop offset="0.708" stop-color="#fff" stop-opacity="0.372"/><stop offset="0.750" stop-color="#fff" stop-opacity="0.303"/><stop offset="0.792" stop-color="#fff" stop-opacity="0.237"/><stop offset="0.833" stop-color="#fff" stop-opacity="0.177"/><stop offset="0.875" stop-color="#fff" stop-opacity="0.122"/><stop offset="0.917" stop-color="#fff" stop-opacity="0.075"/><stop offset="0.958" stop-color="#fff" stop-opacity="0.034"/><stop offset="1.000" stop-color="#fff" stop-opacity="0.000"/></radialGradient>
<mask id="lmx_b1" maskUnits="userSpaceOnUse" x="952" y="148.5" width="56" height="208"><rect x="952" y="148.5" width="56" height="208" fill="url(#lgx_b1)"/></mask>
<mask id="lmy_b1" maskUnits="userSpaceOnUse" x="935.2" y="148.5" width="89.60000000000001" height="208"><rect x="935.2" y="148.5" width="89.60000000000001" height="208" fill="url(#lgy_b1)"/></mask>
<g mask="url(#lmx_b1)"><g mask="url(#lmy_b1)" opacity="0.97">
<rect x="952" y="148.5" width="56" height="208" fill="#24165e"/>
<rect x="952.00" y="148.5" width="1.39" height="208" fill="#8a2a58" opacity="0.45"/>
<rect x="953.39" y="148.5" width="1.57" height="208" fill="#1a1650" opacity="0.45"/>
<rect x="954.96" y="148.5" width="1.62" height="208" fill="#701a40" opacity="0.45"/>
<rect x="956.58" y="148.5" width="1.41" height="208" fill="#2a2a88" opacity="0.45"/>
<rect x="958.00" y="148.5" width="0.82" height="208" fill="#50143a" opacity="0.45"/>
<rect x="958.82" y="148.5" width="1.66" height="208" fill="#1c1c60" opacity="0.45"/>
<rect x="960.48" y="148.5" width="1.30" height="208" fill="#701a40" opacity="0.45"/>
<rect x="961.78" y="148.5" width="0.71" height="208" fill="#701a40" opacity="0.45"/>
<rect x="962.49" y="148.5" width="1.15" height="208" fill="#2a2a88" opacity="0.45"/>
<rect x="963.64" y="148.5" width="1.71" height="208" fill="#1c1c60" opacity="0.45"/>
<rect x="965.35" y="148.5" width="0.88" height="208" fill="#5a1030" opacity="0.45"/>
<rect x="966.22" y="148.5" width="0.85" height="208" fill="#50143a" opacity="0.45"/>
<rect x="967.08" y="148.5" width="0.84" height="208" fill="#1a1650" opacity="0.45"/>
<rect x="967.92" y="148.5" width="1.77" height="208" fill="#1a1650" opacity="0.45"/>
<rect x="969.68" y="148.5" width="0.93" height="208" fill="#701a40" opacity="0.45"/>
<rect x="970.62" y="148.5" width="1.76" height="208" fill="#2a2a88" opacity="0.45"/>
<rect x="972.37" y="148.5" width="1.66" height="208" fill="#2a1a60" opacity="0.45"/>
<rect x="974.03" y="148.5" width="1.05" height="208" fill="#701a40" opacity="0.45"/>
<rect x="975.08" y="148.5" width="1.29" height="208" fill="#701a40" opacity="0.45"/>
<rect x="976.37" y="148.5" width="0.90" height="208" fill="#701a40" opacity="0.45"/>
<rect x="977.27" y="148.5" width="1.76" height="208" fill="#1c1c60" opacity="0.45"/>
<rect x="979.03" y="148.5" width="1.03" height="208" fill="#8a2a58" opacity="0.45"/>
<rect x="980.06" y="148.5" width="1.16" height="208" fill="#2a2a88" opacity="0.45"/>
<rect x="981.22" y="148.5" width="0.99" height="208" fill="#8a2a58" opacity="0.45"/>
<rect x="982.21" y="148.5" width="1.03" height="208" fill="#1a1650" opacity="0.45"/>
<rect x="983.24" y="148.5" width="1.36" height="208" fill="#8a2a58" opacity="0.45"/>
<rect x="984.59" y="148.5" width="0.77" height="208" fill="#8a2a58" opacity="0.45"/>
<rect x="985.37" y="148.5" width="1.60" height="208" fill="#50143a" opacity="0.45"/>
<rect x="986.97" y="148.5" width="1.47" height="208" fill="#2a2a88" opacity="0.45"/>
<rect x="988.43" y="148.5" width="1.23" height="208" fill="#2a2a88" opacity="0.45"/>
<rect x="989.66" y="148.5" width="0.76" height="208" fill="#1a1650" opacity="0.45"/>
<rect x="990.43" y="148.5" width="1.74" height="208" fill="#8a2a58" opacity="0.45"/>
<rect x="992.17" y="148.5" width="1.63" height="208" fill="#1a1650" opacity="0.45"/>
<rect x="993.80" y="148.5" width="1.30" height="208" fill="#1c1c60" opacity="0.45"/>
<rect x="995.10" y="148.5" width="1.10" height="208" fill="#1a1650" opacity="0.45"/>
<rect x="996.21" y="148.5" width="1.20" height="208" fill="#2a2a88" opacity="0.45"/>
<rect x="997.40" y="148.5" width="1.39" height="208" fill="#701a40" opacity="0.45"/>
<rect x="998.79" y="148.5" width="0.83" height="208" fill="#701a40" opacity="0.45"/>
<rect x="999.62" y="148.5" width="1.72" height="208" fill="#50143a" opacity="0.45"/>
<rect x="1001.34" y="148.5" width="1.08" height="208" fill="#8a2a58" opacity="0.45"/>
<rect x="1002.42" y="148.5" width="1.68" height="208" fill="#2a1a60" opacity="0.45"/>
<rect x="1004.10" y="148.5" width="1.55" height="208" fill="#5a1030" opacity="0.45"/>
<rect x="1005.66" y="148.5" width="1.35" height="208" fill="#8a2a58" opacity="0.45"/>
<rect x="1007.01" y="148.5" width="1.65" height="208" fill="#1a1650" opacity="0.45"/>
</g></g>
<radialGradient id="bm26" cx="0.5" cy="0.5" r="0.5"><stop offset="0" stop-color="#ff0a00"/><stop offset="0.22" stop-color="#ff2a10"/><stop offset="0.34" stop-color="#e8d860"/><stop offset="0.46" stop-color="#50f0c0"/><stop offset="0.58" stop-color="#20b0f0"/><stop offset="0.72" stop-color="#4848ff"/><stop offset="0.86" stop-color="#7818ff"/><stop offset="0.95" stop-color="#9a40ff" stop-opacity="0.6"/><stop offset="1" stop-color="#c080ff" stop-opacity="0"/></radialGradient>
<ellipse cx="877.7" cy="253.9" rx="21" ry="6.8" fill="url(#bm26)"/>
<path d="M606.0,227.0 C606.6,226.7 606.6,226.7 609.6,225.0 C612.6,223.3 618.8,219.6 623.8,217.1 C628.8,214.6 635.0,212.1 639.7,210.0 C644.5,207.9 649.7,205.2 652.3,204.4 C654.9,203.6 654.4,204.1 655.5,205.2 C656.6,206.3 657.8,207.5 658.7,210.8 C659.6,214.1 660.3,218.5 661.1,225.0 C661.9,231.5 662.6,241.9 663.4,250.0 C664.2,258.1 665.3,265.5 666.0,273.6 C666.7,281.7 666.7,292.9 667.7,298.8 C668.7,304.7 670.1,306.8 671.9,308.9 C673.7,311.0 675.8,311.5 678.6,311.5 C681.4,311.5 684.8,310.7 688.7,308.9 C692.6,307.1 697.3,304.4 702.1,300.5 C706.9,296.6 710.6,291.5 717.3,285.4 C724.0,279.3 734.2,271.5 742.5,264.0 C750.8,256.5 759.1,248.1 767.0,240.5 C774.9,232.9 784.0,224.7 790.1,218.7 C796.2,212.7 799.1,209.0 803.8,204.4 C808.4,199.8 814.8,193.6 818.0,191.0 C821.2,188.4 821.5,189.1 822.8,188.6 C824.1,188.1 824.8,187.0 825.9,187.8 C827.0,188.6 828.2,189.8 829.1,193.4 C830.0,197.0 830.8,201.4 831.5,209.2 C832.2,217.0 833.1,229.3 833.6,240.0 C834.1,250.7 834.0,263.0 834.8,273.6 C835.6,284.2 836.8,296.9 838.2,303.9 C839.6,310.9 841.5,313.5 843.2,315.7 C844.9,317.9 845.5,317.9 848.3,317.3 C851.1,316.7 855.8,315.0 860.0,312.3 C864.2,309.6 869.3,305.0 873.5,301.4 C877.7,297.8 880.4,294.8 885.2,290.4 C890.0,286.0 896.5,280.6 902.1,275.3 C907.7,270.0 913.9,264.1 918.9,258.5 C923.9,252.9 926.1,249.7 932.0,242.0 C937.9,234.3 948.4,219.7 954.2,212.4 C960.0,205.1 964.0,200.8 966.9,198.1 C969.8,195.4 970.0,196.2 971.6,196.5 C973.2,196.8 974.5,197.0 976.4,199.7 C978.2,202.3 980.4,207.1 982.7,212.4 C985.0,217.7 987.5,225.4 990.0,231.4 C992.5,237.4 995.2,244.7 997.9,248.4 C1000.6,252.1 1003.3,252.4 1006.3,253.4 C1009.3,254.4 1012.0,254.0 1016.0,254.2 C1020.0,254.4 1027.7,254.5 1030.0,254.6" fill="none" stroke="#000" stroke-width="3.8" stroke-linejoin="round" stroke-linecap="butt"/>
</g>
<g clip-path="url(#cp_c1)">
<rect x="1056.6" y="132.5" width="414.8000000000002" height="245.3" fill="#7ca4e0"/>
<clipPath id="c1left"><path d="M1050,128 L1261,128 L1270,160 L1280,195 L1288,240 L1290,270 L1284,300 L1272,335 L1259,382 L1050,382 Z"/></clipPath>
<g clip-path="url(#c1left)">
<rect x="1050" y="128" width="250" height="256" fill="#7298d4"/>
<path d="M1082.0,132.0 C1091.7,122.3 1129.3,125.7 1140.0,132.0 C1150.7,138.3 1146.0,158.7 1146.0,170.0 C1146.0,181.3 1147.7,194.0 1140.0,200.0 C1132.3,206.0 1109.7,207.7 1100.0,206.0 C1090.3,204.3 1085.0,202.3 1082.0,190.0 C1079.0,177.7 1072.3,141.7 1082.0,132.0 Z" fill="#a2bae6" opacity="0.85" filter="url(#bl6)"/>
<path d="M1180.0,132.0 C1190.3,123.2 1228.7,126.5 1240.0,132.0 C1251.3,137.5 1248.0,154.5 1248.0,165.0 C1248.0,175.5 1248.0,189.2 1240.0,195.0 C1232.0,200.8 1210.3,201.7 1200.0,200.0 C1189.7,198.3 1181.3,196.3 1178.0,185.0 C1174.7,173.7 1169.7,140.8 1180.0,132.0 Z" fill="#a6bde8" opacity="0.85" filter="url(#bl6)"/>
<path d="M1076.0,322.0 C1086.5,311.7 1124.0,308.3 1135.0,318.0 C1146.0,327.7 1152.5,369.7 1142.0,380.0 C1131.5,390.3 1083.0,389.7 1072.0,380.0 C1061.0,370.3 1065.5,332.3 1076.0,322.0 Z" fill="#98b2e2" opacity="0.8" filter="url(#bl6)"/>
<path d="M1185.0,318.0 C1195.0,307.7 1239.8,307.7 1250.0,318.0 C1260.2,328.3 1256.0,369.7 1246.0,380.0 C1236.0,390.3 1200.2,390.3 1190.0,380.0 C1179.8,369.7 1175.0,328.3 1185.0,318.0 Z" fill="#92aee0" opacity="0.7" filter="url(#bl6)"/>
<path d="M1052.0,192.0 C1056.0,188.7 1071.0,191.8 1076.0,194.0 C1081.0,196.2 1082.0,201.7 1082.0,205.0 C1082.0,208.3 1081.0,212.5 1076.0,214.0 C1071.0,215.5 1056.0,217.7 1052.0,214.0 C1048.0,210.3 1048.0,195.3 1052.0,192.0 Z" fill="#32509e" opacity="0.85" filter="url(#bl3)"/>
<path d="M1052.0,298.0 C1056.3,294.3 1073.0,297.7 1078.0,300.0 C1083.0,302.3 1082.7,308.3 1082.0,312.0 C1081.3,315.7 1079.0,320.3 1074.0,322.0 C1069.0,323.7 1055.7,326.0 1052.0,322.0 C1048.3,318.0 1047.7,301.7 1052.0,298.0 Z" fill="#3a58a8" opacity="0.75" filter="url(#bl4)"/>
<linearGradient id="fa27" gradientUnits="userSpaceOnUse" x1="1138" y1="128" x2="1240" y2="208"><stop offset="0.000" stop-color="#4565b2" stop-opacity="0.55"/><stop offset="0.250" stop-color="#4565b2" stop-opacity="0.75"/><stop offset="0.500" stop-color="#4565b2" stop-opacity="0.8"/><stop offset="0.750" stop-color="#4565b2" stop-opacity="0.5"/><stop offset="1.000" stop-color="#4565b2" stop-opacity="0.0"/></linearGradient>
<path d="M1138.0,128.0 C1140.0,133.3 1145.5,149.7 1150.0,160.0 C1154.5,170.3 1159.2,182.5 1165.0,190.0 C1170.8,197.5 1176.7,201.7 1185.0,205.0 C1193.3,208.3 1205.8,209.5 1215.0,210.0 C1224.2,210.5 1235.8,208.3 1240.0,208.0" fill="none" stroke="url(#fa27)" stroke-width="16" stroke-linecap="round" filter="url(#bl5)"/>
<linearGradient id="fa28" gradientUnits="userSpaceOnUse" x1="1166" y1="300" x2="1143" y2="382"><stop offset="0.000" stop-color="#4565b2" stop-opacity="0.7"/><stop offset="0.500" stop-color="#4565b2" stop-opacity="0.7"/><stop offset="1.000" stop-color="#4565b2" stop-opacity="0.55"/></linearGradient>
<path d="M1166.0,300.0 C1164.7,304.2 1160.7,316.7 1158.0,325.0 C1155.3,333.3 1152.5,340.5 1150.0,350.0 C1147.5,359.5 1144.2,376.7 1143.0,382.0" fill="none" stroke="url(#fa28)" stroke-width="20" stroke-linecap="round" filter="url(#bl5)"/>
<linearGradient id="fa29" gradientUnits="userSpaceOnUse" x1="1052" y1="204" x2="1120" y2="204"><stop offset="0.000" stop-color="#3a5aa8" stop-opacity="0.8"/><stop offset="0.500" stop-color="#3a5aa8" stop-opacity="0.6"/><stop offset="1.000" stop-color="#3a5aa8" stop-opacity="0.0"/></linearGradient>
<path d="M1052.0,204.0 C1055.8,204.2 1067.0,204.8 1075.0,205.0 C1083.0,205.2 1092.5,205.2 1100.0,205.0 C1107.5,204.8 1116.7,204.2 1120.0,204.0" fill="none" stroke="url(#fa29)" stroke-width="13" stroke-linecap="round" filter="url(#bl5)"/>
<linearGradient id="fa30" gradientUnits="userSpaceOnUse" x1="1052" y1="305" x2="1120" y2="306"><stop offset="0.000" stop-color="#3a5aa8" stop-opacity="0.7"/><stop offset="0.500" stop-color="#3a5aa8" stop-opacity="0.5"/><stop offset="1.000" stop-color="#3a5aa8" stop-opacity="0.0"/></linearGradient>
<path d="M1052.0,305.0 C1055.8,305.2 1067.0,305.8 1075.0,306.0 C1083.0,306.2 1092.5,306.0 1100.0,306.0 C1107.5,306.0 1116.7,306.0 1120.0,306.0" fill="none" stroke="url(#fa30)" stroke-width="13" stroke-linecap="round" filter="url(#bl5)"/>
<path d="M1246.0,132.0 C1248.0,124.8 1257.2,124.8 1262.0,132.0 C1266.8,139.2 1271.3,163.7 1275.0,175.0 C1278.7,186.3 1285.2,195.0 1284.0,200.0 C1282.8,205.0 1273.7,209.2 1268.0,205.0 C1262.3,200.8 1253.7,187.2 1250.0,175.0 C1246.3,162.8 1244.0,139.2 1246.0,132.0 Z" fill="#4e6fba" opacity="0.8" filter="url(#bl3)"/>
<path d="M1262.0,380.0 C1267.0,371.7 1273.7,345.0 1278.0,330.0 C1282.3,315.0 1288.3,296.3 1288.0,290.0 C1287.7,283.7 1280.3,285.3 1276.0,292.0 C1271.7,298.7 1266.7,315.3 1262.0,330.0 C1257.3,344.7 1248.0,371.7 1248.0,380.0 C1248.0,388.3 1257.0,388.3 1262.0,380.0 Z" fill="#4e6fba" opacity="0.7" filter="url(#bl3)"/>
</g>
<path d="M1261,130 L1270,160 L1280,195" fill="none" stroke="#3f62b2" stroke-width="1.6" opacity="0.8"/>
<path d="M1288,285 L1272,335 L1259,382" fill="none" stroke="#3f62b2" stroke-width="1.6" opacity="0.8"/>
<path d="M1050.0,216.0 C1056.7,210.2 1077.5,213.2 1090.0,213.0 C1102.5,212.8 1116.2,213.3 1125.0,215.0 C1133.8,216.7 1138.8,219.7 1143.0,223.0 C1147.2,226.3 1149.5,231.0 1150.0,235.0 C1150.5,239.0 1152.7,244.8 1146.0,247.0 C1139.3,249.2 1126.0,247.8 1110.0,248.0 C1094.0,248.2 1060.0,253.3 1050.0,248.0 C1040.0,242.7 1043.3,221.8 1050.0,216.0 Z" fill="#d6d8f2" opacity="0.95" filter="url(#bl3)"/>
<path d="M1050.0,261.0 C1060.0,255.0 1094.0,260.7 1110.0,261.0 C1126.0,261.3 1139.3,260.8 1146.0,263.0 C1152.7,265.2 1150.7,270.2 1150.0,274.0 C1149.3,277.8 1146.7,282.7 1142.0,286.0 C1137.3,289.3 1130.7,292.2 1122.0,294.0 C1113.3,295.8 1102.0,296.5 1090.0,297.0 C1078.0,297.5 1056.7,303.0 1050.0,297.0 C1043.3,291.0 1040.0,267.0 1050.0,261.0 Z" fill="#d6d8f2" opacity="0.95" filter="url(#bl3)"/>
<path d="M1050.0,248.0 C1065.0,245.8 1123.3,247.0 1140.0,248.0 C1156.7,249.0 1150.0,251.8 1150.0,254.0 C1150.0,256.2 1156.7,259.8 1140.0,261.0 C1123.3,262.2 1065.0,263.2 1050.0,261.0 C1035.0,258.8 1035.0,250.2 1050.0,248.0 Z" fill="#b4c2e8" opacity="1.0" filter="url(#bl1)"/>
<path d="M1171.0,238.0 C1170.7,234.0 1172.5,228.0 1176.0,224.0 C1179.5,220.0 1185.5,216.2 1192.0,214.0 C1198.5,211.8 1206.2,211.3 1215.0,211.0 C1223.8,210.7 1236.2,210.8 1245.0,212.0 C1253.8,213.2 1262.0,215.0 1268.0,218.0 C1274.0,221.0 1278.2,225.3 1281.0,230.0 C1283.8,234.7 1291.8,242.8 1285.0,246.0 C1278.2,249.2 1254.2,248.3 1240.0,249.0 C1225.8,249.7 1210.3,250.2 1200.0,250.0 C1189.7,249.8 1182.8,250.0 1178.0,248.0 C1173.2,246.0 1171.3,242.0 1171.0,238.0 Z" fill="#e8e3f7" opacity="1.0" filter="url(#bl1_5)"/>
<path d="M1171.0,270.0 C1171.3,265.8 1173.2,261.0 1178.0,259.0 C1182.8,257.0 1189.7,258.0 1200.0,258.0 C1210.3,258.0 1225.8,258.3 1240.0,259.0 C1254.2,259.7 1278.2,258.8 1285.0,262.0 C1291.8,265.2 1284.2,273.2 1281.0,278.0 C1277.8,282.8 1272.8,287.7 1266.0,291.0 C1259.2,294.3 1249.0,296.7 1240.0,298.0 C1231.0,299.3 1220.3,299.7 1212.0,299.0 C1203.7,298.3 1196.0,296.5 1190.0,294.0 C1184.0,291.5 1179.2,288.0 1176.0,284.0 C1172.8,280.0 1170.7,274.2 1171.0,270.0 Z" fill="#e8e3f7" opacity="1.0" filter="url(#bl1_5)"/>
<path d="M1293.0,254.0 C1293.0,246.7 1294.3,238.7 1297.0,232.0 C1299.7,225.3 1303.5,219.2 1309.0,214.0 C1314.5,208.8 1322.3,204.0 1330.0,201.0 C1337.7,198.0 1346.3,196.8 1355.0,196.0 C1363.7,195.2 1374.2,194.7 1382.0,196.0 C1389.8,197.3 1397.3,198.3 1402.0,204.0 C1406.7,209.7 1408.3,221.7 1410.0,230.0 C1411.7,238.3 1412.0,244.8 1412.0,254.0 C1412.0,263.2 1411.7,276.3 1410.0,285.0 C1408.3,293.7 1406.7,301.0 1402.0,306.0 C1397.3,311.0 1389.8,313.2 1382.0,315.0 C1374.2,316.8 1363.7,317.7 1355.0,317.0 C1346.3,316.3 1337.7,314.3 1330.0,311.0 C1322.3,307.7 1314.5,302.8 1309.0,297.0 C1303.5,291.2 1299.7,283.2 1297.0,276.0 C1294.3,268.8 1293.0,261.3 1293.0,254.0 Z" fill="#e9e4f8" opacity="1.0" filter="url(#bl2)"/>
<linearGradient id="fa31" gradientUnits="userSpaceOnUse" x1="1052" y1="249.0" x2="1150" y2="249.0"><stop offset="0.000" stop-color="#3a58a8" stop-opacity="0.85"/><stop offset="0.500" stop-color="#3a58a8" stop-opacity="0.8"/><stop offset="1.000" stop-color="#3a58a8" stop-opacity="0.6"/></linearGradient>
<path d="M1052.0,249.0 L1150.0,249.0" fill="none" stroke="url(#fa31)" stroke-width="1.7" stroke-linecap="round"/>
<linearGradient id="fa32" gradientUnits="userSpaceOnUse" x1="1052" y1="260.5" x2="1150" y2="260.5"><stop offset="0.000" stop-color="#3a58a8" stop-opacity="0.85"/><stop offset="0.500" stop-color="#3a58a8" stop-opacity="0.8"/><stop offset="1.000" stop-color="#3a58a8" stop-opacity="0.6"/></linearGradient>
<path d="M1052.0,260.5 L1150.0,260.5" fill="none" stroke="url(#fa32)" stroke-width="1.7" stroke-linecap="round"/>
<linearGradient id="fa33" gradientUnits="userSpaceOnUse" x1="1174" y1="247" x2="1288" y2="261"><stop offset="0.000" stop-color="#1e3894" stop-opacity="0.9"/><stop offset="0.500" stop-color="#1e3894" stop-opacity="0.9"/><stop offset="1.000" stop-color="#1e3894" stop-opacity="0.8"/></linearGradient>
<path d="M1174.0,247.0 C1183.3,247.8 1211.0,249.7 1230.0,252.0 C1249.0,254.3 1278.3,259.5 1288.0,261.0" fill="none" stroke="url(#fa33)" stroke-width="2.0" stroke-linecap="round"/>
<linearGradient id="fa34" gradientUnits="userSpaceOnUse" x1="1174" y1="263" x2="1288" y2="248"><stop offset="0.000" stop-color="#1e3894" stop-opacity="0.9"/><stop offset="0.500" stop-color="#1e3894" stop-opacity="0.9"/><stop offset="1.000" stop-color="#1e3894" stop-opacity="0.8"/></linearGradient>
<path d="M1174.0,263.0 C1183.3,262.0 1211.0,259.5 1230.0,257.0 C1249.0,254.5 1278.3,249.5 1288.0,248.0" fill="none" stroke="url(#fa34)" stroke-width="2.0" stroke-linecap="round"/>
<linearGradient id="fa35" gradientUnits="userSpaceOnUse" x1="1174" y1="248" x2="1286" y2="254"><stop offset="0.000" stop-color="#5070b8" stop-opacity="0.5"/><stop offset="0.500" stop-color="#5070b8" stop-opacity="0.5"/><stop offset="1.000" stop-color="#5070b8" stop-opacity="0.3"/></linearGradient>
<path d="M1174.0,248.0 C1183.3,248.8 1211.3,252.0 1230.0,253.0 C1248.7,254.0 1276.7,253.8 1286.0,254.0" fill="none" stroke="url(#fa35)" stroke-width="4" stroke-linecap="round" filter="url(#bl1)"/>
<linearGradient id="fa36" gradientUnits="userSpaceOnUse" x1="1166" y1="223" x2="1242" y2="195"><stop offset="0.000" stop-color="#3e60b4" stop-opacity="0.6"/><stop offset="0.500" stop-color="#3e60b4" stop-opacity="0.51"/><stop offset="1.000" stop-color="#3e60b4" stop-opacity="0.0"/></linearGradient>
<path d="M1166.0,223.0 C1167.7,220.5 1171.3,212.2 1176.0,208.0 C1180.7,203.8 1187.0,200.3 1194.0,198.0 C1201.0,195.7 1210.0,194.5 1218.0,194.0 C1226.0,193.5 1238.0,194.8 1242.0,195.0" fill="none" stroke="url(#fa36)" stroke-width="18.2" stroke-linecap="round" filter="url(#bl4)"/>
<linearGradient id="fa37" gradientUnits="userSpaceOnUse" x1="1166" y1="228" x2="1242" y2="200"><stop offset="0.000" stop-color="#1e3894" stop-opacity="1"/><stop offset="0.500" stop-color="#1e3894" stop-opacity="0.85"/><stop offset="1.000" stop-color="#1e3894" stop-opacity="0.0"/></linearGradient>
<path d="M1166.0,228.0 C1167.7,225.5 1171.3,217.2 1176.0,213.0 C1180.7,208.8 1187.0,205.3 1194.0,203.0 C1201.0,200.7 1210.0,199.5 1218.0,199.0 C1226.0,198.5 1238.0,199.8 1242.0,200.0" fill="none" stroke="url(#fa37)" stroke-width="7" stroke-linecap="round" filter="url(#bl1)"/>
<linearGradient id="fa38" gradientUnits="userSpaceOnUse" x1="1166" y1="287" x2="1242" y2="312"><stop offset="0.000" stop-color="#3e60b4" stop-opacity="0.6"/><stop offset="0.500" stop-color="#3e60b4" stop-opacity="0.51"/><stop offset="1.000" stop-color="#3e60b4" stop-opacity="0.0"/></linearGradient>
<path d="M1166.0,287.0 C1167.7,289.3 1171.3,297.2 1176.0,301.0 C1180.7,304.8 1187.0,308.0 1194.0,310.0 C1201.0,312.0 1210.0,312.7 1218.0,313.0 C1226.0,313.3 1238.0,312.2 1242.0,312.0" fill="none" stroke="url(#fa38)" stroke-width="18.2" stroke-linecap="round" filter="url(#bl4)"/>
<linearGradient id="fa39" gradientUnits="userSpaceOnUse" x1="1166" y1="282" x2="1242" y2="307"><stop offset="0.000" stop-color="#1e3894" stop-opacity="1"/><stop offset="0.500" stop-color="#1e3894" stop-opacity="0.85"/><stop offset="1.000" stop-color="#1e3894" stop-opacity="0.0"/></linearGradient>
<path d="M1166.0,282.0 C1167.7,284.3 1171.3,292.2 1176.0,296.0 C1180.7,299.8 1187.0,303.0 1194.0,305.0 C1201.0,307.0 1210.0,307.7 1218.0,308.0 C1226.0,308.3 1238.0,307.2 1242.0,307.0" fill="none" stroke="url(#fa39)" stroke-width="7" stroke-linecap="round" filter="url(#bl1)"/>
<linearGradient id="fa40" gradientUnits="userSpaceOnUse" x1="1294" y1="245" x2="1383" y2="180"><stop offset="0.000" stop-color="#3e60b4" stop-opacity="0.6"/><stop offset="0.333" stop-color="#3e60b4" stop-opacity="0.6"/><stop offset="0.667" stop-color="#3e60b4" stop-opacity="0.44999999999999996"/><stop offset="1.000" stop-color="#3e60b4" stop-opacity="0.0"/></linearGradient>
<path d="M1294.0,245.0 C1294.7,241.3 1295.2,229.3 1298.0,223.0 C1300.8,216.7 1306.3,211.5 1311.0,207.0 C1315.7,202.5 1318.3,200.0 1326.0,196.0 C1333.7,192.0 1347.5,185.7 1357.0,183.0 C1366.5,180.3 1378.7,180.5 1383.0,180.0" fill="none" stroke="url(#fa40)" stroke-width="18.2" stroke-linecap="round" filter="url(#bl4)"/>
<linearGradient id="fa41" gradientUnits="userSpaceOnUse" x1="1294" y1="250" x2="1383" y2="185"><stop offset="0.000" stop-color="#1a3290" stop-opacity="1"/><stop offset="0.333" stop-color="#1a3290" stop-opacity="1"/><stop offset="0.667" stop-color="#1a3290" stop-opacity="0.75"/><stop offset="1.000" stop-color="#1a3290" stop-opacity="0"/></linearGradient>
<path d="M1294.0,250.0 C1294.7,246.3 1295.2,234.3 1298.0,228.0 C1300.8,221.7 1306.3,216.5 1311.0,212.0 C1315.7,207.5 1318.3,205.0 1326.0,201.0 C1333.7,197.0 1347.5,190.7 1357.0,188.0 C1366.5,185.3 1378.7,185.5 1383.0,185.0" fill="none" stroke="url(#fa41)" stroke-width="7" stroke-linecap="round" filter="url(#bl1)"/>
<linearGradient id="fa42" gradientUnits="userSpaceOnUse" x1="1294" y1="263" x2="1392" y2="328"><stop offset="0.000" stop-color="#3e60b4" stop-opacity="0.6"/><stop offset="0.333" stop-color="#3e60b4" stop-opacity="0.6"/><stop offset="0.667" stop-color="#3e60b4" stop-opacity="0.44999999999999996"/><stop offset="1.000" stop-color="#3e60b4" stop-opacity="0.0"/></linearGradient>
<path d="M1294.0,263.0 C1294.8,266.7 1295.2,277.7 1299.0,285.0 C1302.8,292.3 1310.0,301.2 1317.0,307.0 C1324.0,312.8 1333.0,316.8 1341.0,320.0 C1349.0,323.2 1356.5,324.7 1365.0,326.0 C1373.5,327.3 1387.5,327.7 1392.0,328.0" fill="none" stroke="url(#fa42)" stroke-width="18.2" stroke-linecap="round" filter="url(#bl4)"/>
<linearGradient id="fa43" gradientUnits="userSpaceOnUse" x1="1294" y1="258" x2="1392" y2="323"><stop offset="0.000" stop-color="#1a3290" stop-opacity="1"/><stop offset="0.333" stop-color="#1a3290" stop-opacity="1"/><stop offset="0.667" stop-color="#1a3290" stop-opacity="0.75"/><stop offset="1.000" stop-color="#1a3290" stop-opacity="0"/></linearGradient>
<path d="M1294.0,258.0 C1294.8,261.7 1295.2,272.7 1299.0,280.0 C1302.8,287.3 1310.0,296.2 1317.0,302.0 C1324.0,307.8 1333.0,311.8 1341.0,315.0 C1349.0,318.2 1356.5,319.7 1365.0,321.0 C1373.5,322.3 1387.5,322.7 1392.0,323.0" fill="none" stroke="url(#fa43)" stroke-width="7" stroke-linecap="round" filter="url(#bl1)"/>
<path d="M1283.0,226.0 C1285.2,222.7 1289.8,229.3 1292.0,234.0 C1294.2,238.7 1296.0,247.0 1296.0,254.0 C1296.0,261.0 1294.2,271.0 1292.0,276.0 C1289.8,281.0 1285.2,287.7 1283.0,284.0 C1280.8,280.3 1279.0,263.7 1279.0,254.0 C1279.0,244.3 1280.8,229.3 1283.0,226.0 Z" fill="#1e3894" opacity="0.85" filter="url(#bl2)"/>
<path d="M1152.0,200.0 C1155.5,192.3 1164.5,199.0 1168.0,208.0 C1171.5,217.0 1173.0,238.7 1173.0,254.0 C1173.0,269.3 1171.5,291.0 1168.0,300.0 C1164.5,309.0 1155.5,315.7 1152.0,308.0 C1148.5,300.3 1147.0,272.0 1147.0,254.0 C1147.0,236.0 1148.5,207.7 1152.0,200.0 Z" fill="#2a489e" opacity="0.8" filter="url(#bl3)"/>
<rect x="1056.6" y="132.5" width="414.8000000000002" height="245.3" filter="url(#nzW)" opacity="0.22"/>
<rect x="1056.6" y="132.5" width="414.8000000000002" height="245.3" filter="url(#nzD)" opacity="0.3"/>
<linearGradient id="lgx_c1" x1="0" y1="0" x2="1" y2="0"><stop offset="0.000" stop-color="#fff" stop-opacity="0.000"/><stop offset="0.042" stop-color="#fff" stop-opacity="0.096"/><stop offset="0.083" stop-color="#fff" stop-opacity="0.258"/><stop offset="0.125" stop-color="#fff" stop-opacity="0.459"/><stop offset="0.167" stop-color="#fff" stop-opacity="0.653"/><stop offset="0.208" stop-color="#fff" stop-opacity="0.804"/><stop offset="0.250" stop-color="#fff" stop-opacity="0.905"/><stop offset="0.292" stop-color="#fff" stop-opacity="0.961"/><stop offset="0.333" stop-color="#fff" stop-opacity="0.987"/><stop offset="0.375" stop-color="#fff" stop-opacity="0.997"/><stop offset="0.417" stop-color="#fff" stop-opacity="1.000"/><stop offset="0.458" stop-color="#fff" stop-opacity="1.000"/><stop offset="0.500" stop-color="#fff" stop-opacity="1.000"/><stop offset="0.542" stop-color="#fff" stop-opacity="1.000"/><stop offset="0.583" stop-color="#fff" stop-opacity="1.000"/><stop offset="0.625" stop-color="#fff" stop-opacity="0.997"/><stop offset="0.667" stop-color="#fff" stop-opacity="0.987"/><stop offset="0.708" stop-color="#fff" stop-opacity="0.961"/><stop offset="0.750" stop-color="#fff" stop-opacity="0.905"/><stop offset="0.792" stop-color="#fff" stop-opacity="0.804"/><stop offset="0.833" stop-color="#fff" stop-opacity="0.653"/><stop offset="0.875" stop-color="#fff" stop-opacity="0.459"/><stop offset="0.917" stop-color="#fff" stop-opacity="0.258"/><stop offset="0.958" stop-color="#fff" stop-opacity="0.096"/><stop offset="1.000" stop-color="#fff" stop-opacity="0.000"/></linearGradient>
<radialGradient id="lgy_c1" cx="0.5" cy="0.5" r="0.5"><stop offset="0.000" stop-color="#fff" stop-opacity="1.000"/><stop offset="0.042" stop-color="#fff" stop-opacity="1.000"/><stop offset="0.083" stop-color="#fff" stop-opacity="0.998"/><stop offset="0.125" stop-color="#fff" stop-opacity="0.995"/><stop offset="0.167" stop-color="#fff" stop-opacity="0.988"/><stop offset="0.208" stop-color="#fff" stop-opacity="0.977"/><stop offset="0.250" stop-color="#fff" stop-opacity="0.960"/><stop offset="0.292" stop-color="#fff" stop-opacity="0.937"/><stop offset="0.333" stop-color="#fff" stop-opacity="0.907"/><stop offset="0.375" stop-color="#fff" stop-opacity="0.870"/><stop offset="0.417" stop-color="#fff" stop-opacity="0.826"/><stop offset="0.458" stop-color="#fff" stop-opacity="0.775"/><stop offset="0.500" stop-color="#fff" stop-opacity="0.717"/><stop offset="0.542" stop-color="#fff" stop-opacity="0.654"/><stop offset="0.583" stop-color="#fff" stop-opacity="0.586"/><stop offset="0.625" stop-color="#fff" stop-opacity="0.515"/><stop offset="0.667" stop-color="#fff" stop-opacity="0.443"/><stop offset="0.708" stop-color="#fff" stop-opacity="0.372"/><stop offset="0.750" stop-color="#fff" stop-opacity="0.303"/><stop offset="0.792" stop-color="#fff" stop-opacity="0.237"/><stop offset="0.833" stop-color="#fff" stop-opacity="0.177"/><stop offset="0.875" stop-color="#fff" stop-opacity="0.122"/><stop offset="0.917" stop-color="#fff" stop-opacity="0.075"/><stop offset="0.958" stop-color="#fff" stop-opacity="0.034"/><stop offset="1.000" stop-color="#fff" stop-opacity="0.000"/></radialGradient>
<mask id="lmx_c1" maskUnits="userSpaceOnUse" x="1394" y="147" width="56" height="214"><rect x="1394" y="147" width="56" height="214" fill="url(#lgx_c1)"/></mask>
<mask id="lmy_c1" maskUnits="userSpaceOnUse" x="1377.2" y="147" width="89.60000000000001" height="214"><rect x="1377.2" y="147" width="89.60000000000001" height="214" fill="url(#lgy_c1)"/></mask>
<g mask="url(#lmx_c1)"><g mask="url(#lmy_c1)" opacity="0.97">
<rect x="1394" y="147" width="56" height="214" fill="#24165e"/>
<rect x="1394.00" y="147" width="1.06" height="214" fill="#2a2a88" opacity="0.45"/>
<rect x="1395.06" y="147" width="1.13" height="214" fill="#1a1650" opacity="0.45"/>
<rect x="1396.19" y="147" width="0.78" height="214" fill="#5a1030" opacity="0.45"/>
<rect x="1396.97" y="147" width="1.10" height="214" fill="#1a1650" opacity="0.45"/>
<rect x="1398.07" y="147" width="1.70" height="214" fill="#701a40" opacity="0.45"/>
<rect x="1399.77" y="147" width="0.74" height="214" fill="#1c1c60" opacity="0.45"/>
<rect x="1400.51" y="147" width="1.16" height="214" fill="#701a40" opacity="0.45"/>
<rect x="1401.67" y="147" width="0.80" height="214" fill="#1c1c60" opacity="0.45"/>
<rect x="1402.47" y="147" width="0.77" height="214" fill="#5a1030" opacity="0.45"/>
<rect x="1403.24" y="147" width="1.74" height="214" fill="#1a1650" opacity="0.45"/>
<rect x="1404.98" y="147" width="1.33" height="214" fill="#1c1c60" opacity="0.45"/>
<rect x="1406.32" y="147" width="0.75" height="214" fill="#701a40" opacity="0.45"/>
<rect x="1407.07" y="147" width="0.75" height="214" fill="#2a2a88" opacity="0.45"/>
<rect x="1407.82" y="147" width="1.02" height="214" fill="#2a2a88" opacity="0.45"/>
<rect x="1408.84" y="147" width="1.29" height="214" fill="#2a1a60" opacity="0.45"/>
<rect x="1410.14" y="147" width="1.32" height="214" fill="#2a2a88" opacity="0.45"/>
<rect x="1411.45" y="147" width="0.81" height="214" fill="#701a40" opacity="0.45"/>
<rect x="1412.26" y="147" width="1.11" height="214" fill="#5a1030" opacity="0.45"/>
<rect x="1413.37" y="147" width="1.32" height="214" fill="#701a40" opacity="0.45"/>
<rect x="1414.70" y="147" width="1.25" height="214" fill="#1c1c60" opacity="0.45"/>
<rect x="1415.94" y="147" width="1.55" height="214" fill="#50143a" opacity="0.45"/>
<rect x="1417.50" y="147" width="1.34" height="214" fill="#50143a" opacity="0.45"/>
<rect x="1418.84" y="147" width="1.10" height="214" fill="#701a40" opacity="0.45"/>
<rect x="1419.94" y="147" width="1.57" height="214" fill="#701a40" opacity="0.45"/>
<rect x="1421.51" y="147" width="0.79" height="214" fill="#2a1a60" opacity="0.45"/>
<rect x="1422.30" y="147" width="1.28" height="214" fill="#8a2a58" opacity="0.45"/>
<rect x="1423.58" y="147" width="1.50" height="214" fill="#2a1a60" opacity="0.45"/>
<rect x="1425.08" y="147" width="1.37" height="214" fill="#5a1030" opacity="0.45"/>
<rect x="1426.45" y="147" width="0.83" height="214" fill="#1c1c60" opacity="0.45"/>
<rect x="1427.28" y="147" width="0.88" height="214" fill="#8a2a58" opacity="0.45"/>
<rect x="1428.16" y="147" width="0.87" height="214" fill="#50143a" opacity="0.45"/>
<rect x="1429.03" y="147" width="1.16" height="214" fill="#5a1030" opacity="0.45"/>
<rect x="1430.19" y="147" width="1.54" height="214" fill="#8a2a58" opacity="0.45"/>
<rect x="1431.74" y="147" width="1.07" height="214" fill="#8a2a58" opacity="0.45"/>
<rect x="1432.81" y="147" width="1.35" height="214" fill="#50143a" opacity="0.45"/>
<rect x="1434.16" y="147" width="0.78" height="214" fill="#5a1030" opacity="0.45"/>
<rect x="1434.94" y="147" width="1.74" height="214" fill="#50143a" opacity="0.45"/>
<rect x="1436.68" y="147" width="1.47" height="214" fill="#5a1030" opacity="0.45"/>
<rect x="1438.14" y="147" width="0.77" height="214" fill="#2a1a60" opacity="0.45"/>
<rect x="1438.91" y="147" width="1.41" height="214" fill="#50143a" opacity="0.45"/>
<rect x="1440.32" y="147" width="1.01" height="214" fill="#1c1c60" opacity="0.45"/>
<rect x="1441.34" y="147" width="1.68" height="214" fill="#8a2a58" opacity="0.45"/>
<rect x="1443.01" y="147" width="0.72" height="214" fill="#50143a" opacity="0.45"/>
<rect x="1443.74" y="147" width="1.09" height="214" fill="#5a1030" opacity="0.45"/>
<rect x="1444.83" y="147" width="1.24" height="214" fill="#701a40" opacity="0.45"/>
<rect x="1446.07" y="147" width="1.55" height="214" fill="#2a2a88" opacity="0.45"/>
<rect x="1447.62" y="147" width="1.51" height="214" fill="#1c1c60" opacity="0.45"/>
<rect x="1449.13" y="147" width="1.13" height="214" fill="#50143a" opacity="0.45"/>
</g></g>
<radialGradient id="bm44" cx="0.5" cy="0.5" r="0.5"><stop offset="0" stop-color="#ff0a00"/><stop offset="0.22" stop-color="#ff2a10"/><stop offset="0.34" stop-color="#e8d860"/><stop offset="0.46" stop-color="#50f0c0"/><stop offset="0.58" stop-color="#20b0f0"/><stop offset="0.72" stop-color="#4848ff"/><stop offset="0.86" stop-color="#7818ff"/><stop offset="0.95" stop-color="#9a40ff" stop-opacity="0.6"/><stop offset="1" stop-color="#c080ff" stop-opacity="0"/></radialGradient>
<ellipse cx="1323" cy="254.9" rx="20.5" ry="7" fill="url(#bm44)"/>
<path d="M1052.0,309.0 C1052.5,308.4 1051.9,308.1 1055.0,305.4 C1058.1,302.7 1065.5,297.6 1070.8,292.8 C1076.1,288.1 1081.4,284.0 1086.7,276.9 C1092.0,269.8 1097.2,258.4 1102.5,250.0 C1107.8,241.6 1113.1,233.7 1118.4,226.6 C1123.7,219.5 1130.0,212.6 1134.2,207.6 C1138.4,202.6 1140.8,198.9 1143.7,196.5 C1146.6,194.1 1149.5,193.4 1151.6,193.4 C1153.7,193.4 1155.1,193.3 1156.4,196.5 C1157.7,199.7 1158.5,205.0 1159.5,212.4 C1160.5,219.8 1161.9,233.2 1162.7,240.9 C1163.5,248.6 1163.2,251.5 1164.3,258.3 C1165.3,265.1 1167.7,274.6 1169.0,281.7 C1170.3,288.8 1170.9,296.5 1172.2,300.7 C1173.5,304.9 1174.9,306.2 1177.0,307.0 C1179.1,307.8 1182.8,306.2 1184.9,305.4 C1187.0,304.6 1188.3,303.6 1189.6,302.3 C1190.9,301.0 1190.1,299.9 1192.8,297.5 C1195.5,295.1 1200.8,292.5 1205.5,288.0 C1210.2,283.5 1216.0,276.9 1221.3,270.6 C1226.6,264.3 1230.3,258.6 1237.1,250.0 C1243.9,241.3 1254.7,227.9 1262.0,218.7 C1269.3,209.5 1277.3,198.8 1281.0,194.9 C1284.7,191.0 1283.0,194.2 1284.0,195.0 C1285.0,195.8 1286.2,195.8 1287.3,199.7 C1288.4,203.6 1289.6,208.9 1290.5,218.7 C1291.4,228.5 1292.2,244.8 1292.9,258.3 C1293.6,271.9 1294.1,288.1 1294.5,300.0 C1294.9,311.9 1295.2,322.2 1295.4,330.0 C1295.7,337.8 1295.8,343.2 1296.0,347.0 C1296.2,350.8 1296.1,353.1 1296.3,353.0 C1296.5,352.9 1296.8,348.4 1297.2,346.5 C1297.6,344.6 1298.0,342.9 1298.6,341.5 C1299.1,340.1 1299.5,339.5 1300.5,338.0 C1301.5,336.5 1302.5,335.2 1304.8,332.4 C1307.1,329.6 1310.3,326.1 1314.3,321.3 C1318.2,316.5 1322.7,310.9 1328.5,303.8 C1334.3,296.7 1343.8,285.1 1349.1,278.5 C1354.4,271.9 1354.9,271.9 1360.2,264.0 C1365.5,256.1 1374.7,240.3 1380.8,231.4 C1386.9,222.5 1392.1,216.6 1396.6,210.8 C1401.1,205.0 1404.5,200.2 1407.7,196.5 C1410.9,192.8 1413.2,189.4 1415.6,188.6 C1418.0,187.8 1420.2,189.7 1422.0,191.8 C1423.8,193.9 1424.9,196.3 1426.7,201.3 C1428.5,206.3 1430.9,215.3 1433.0,221.9 C1435.1,228.5 1437.3,235.8 1439.4,240.9 C1441.5,246.0 1443.1,250.3 1445.7,252.7 C1448.3,255.1 1450.3,254.7 1455.2,255.1 C1460.1,255.5 1471.7,255.0 1475.0,255.0" fill="none" stroke="#000" stroke-width="3.8" stroke-linejoin="round" stroke-linecap="butt"/>
</g>
<linearGradient id="hx_bt" x1="0" y1="0" x2="1" y2="0"><stop offset="0" stop-color="#0030e0"/><stop offset="0.04" stop-color="#0060ff"/><stop offset="0.1" stop-color="#00b0ff"/><stop offset="0.18" stop-color="#30f0d0"/><stop offset="0.28" stop-color="#90ff70"/><stop offset="0.4" stop-color="#d8f438"/><stop offset="0.5" stop-color="#e8f030"/><stop offset="0.6" stop-color="#d8f438"/><stop offset="0.72" stop-color="#90ff70"/><stop offset="0.82" stop-color="#30f0d0"/><stop offset="0.9" stop-color="#00b0ff"/><stop offset="0.96" stop-color="#0060ff"/><stop offset="1" stop-color="#0030e0"/></linearGradient>
<linearGradient id="vx_bt" x1="0" y1="0" x2="0" y2="1"><stop offset="0" stop-color="#00a0ff" stop-opacity="0.9"/><stop offset="0.12" stop-color="#20e0e0" stop-opacity="0.7"/><stop offset="0.24" stop-color="#80ff80" stop-opacity="0"/><stop offset="0.76" stop-color="#80ff80" stop-opacity="0"/><stop offset="0.88" stop-color="#20e0e0" stop-opacity="0.7"/><stop offset="1" stop-color="#00a0ff" stop-opacity="0.9"/></linearGradient>
<radialGradient id="core_bt" cx="0.5" cy="0.5" r="0.5"><stop offset="0" stop-color="#ff4a00"/><stop offset="0.35" stop-color="#ff6000"/><stop offset="0.58" stop-color="#ff9800" stop-opacity="0.9"/><stop offset="0.78" stop-color="#ffd000" stop-opacity="0.45"/><stop offset="1" stop-color="#ffe000" stop-opacity="0"/></radialGradient>
<linearGradient id="vm_a2g" x1="0" y1="0" x2="0" y2="1"><stop offset="0" stop-color="#fff" stop-opacity="0"/><stop offset="0.12" stop-color="#fff" stop-opacity="1"/><stop offset="0.88" stop-color="#fff" stop-opacity="1"/><stop offset="1" stop-color="#fff" stop-opacity="0"/></linearGradient><mask id="vm_a2" maskUnits="userSpaceOnUse" x="403.8" y="594.0" width="48.19999999999999" height="87.0"><rect x="403.8" y="594.0" width="48.19999999999999" height="87.0" fill="url(#vm_a2g)"/></mask>
<g mask="url(#vm_a2)"><rect x="403.8" y="594.0" width="48.2" height="87.0" fill="url(#hx_bt)"/><rect x="403.8" y="594.0" width="48.2" height="87.0" fill="url(#vx_bt)"/></g>
<ellipse cx="428" cy="638" rx="19" ry="35" fill="url(#core_bt)"/>
<rect x="425.2" y="598.0" width="1.1" height="1.1" fill="#00e0f0" opacity="0.70"/>
<rect x="444.2" y="592.0" width="1.1" height="1.1" fill="#40ffc0" opacity="0.71"/>
<rect x="432.8" y="592.0" width="1.1" height="1.1" fill="#00e0f0" opacity="0.64"/>
<rect x="408.1" y="602.0" width="1.1" height="1.1" fill="#a0ff60" opacity="0.79"/>
<rect x="431.9" y="595.3" width="1.1" height="1.1" fill="#00e0f0" opacity="0.79"/>
<rect x="432.9" y="591.5" width="1.1" height="1.1" fill="#0000ff" opacity="0.87"/>
<rect x="406.8" y="589.6" width="1.1" height="1.1" fill="#0050ff" opacity="0.77"/>
<rect x="440.5" y="594.2" width="1.1" height="1.1" fill="#40ffc0" opacity="0.88"/>
<rect x="428.3" y="599.2" width="1.1" height="1.1" fill="#00e0f0" opacity="0.50"/>
<rect x="407.8" y="599.5" width="1.1" height="1.1" fill="#00e0f0" opacity="0.95"/>
<rect x="450.8" y="602.4" width="1.1" height="1.1" fill="#a0ff60" opacity="0.61"/>
<rect x="439.6" y="597.2" width="1.1" height="1.1" fill="#0000ff" opacity="0.53"/>
<rect x="440.0" y="595.4" width="1.1" height="1.1" fill="#00a0ff" opacity="0.67"/>
<rect x="449.0" y="602.6" width="1.1" height="1.1" fill="#0000ff" opacity="0.60"/>
<rect x="447.6" y="589.8" width="1.1" height="1.1" fill="#00e0f0" opacity="0.94"/>
<rect x="422.6" y="590.2" width="1.1" height="1.1" fill="#a0ff60" opacity="0.59"/>
<rect x="435.7" y="594.4" width="1.1" height="1.1" fill="#00a0ff" opacity="0.65"/>
<rect x="449.3" y="601.1" width="1.1" height="1.1" fill="#0000ff" opacity="0.56"/>
<rect x="437.2" y="589.2" width="1.1" height="1.1" fill="#00e0f0" opacity="0.86"/>
<rect x="412.2" y="597.9" width="1.1" height="1.1" fill="#00e0f0" opacity="0.73"/>
<rect x="450.3" y="601.3" width="1.1" height="1.1" fill="#00e0f0" opacity="0.79"/>
<rect x="409.3" y="595.7" width="1.1" height="1.1" fill="#0050ff" opacity="0.50"/>
<rect x="444.6" y="604.6" width="1.1" height="1.1" fill="#40ffc0" opacity="0.64"/>
<rect x="445.6" y="592.4" width="1.1" height="1.1" fill="#00e0f0" opacity="0.95"/>
<rect x="432.2" y="598.2" width="1.1" height="1.1" fill="#0000ff" opacity="0.95"/>
<rect x="413.9" y="593.1" width="1.1" height="1.1" fill="#40ffc0" opacity="0.65"/>
<rect x="417.8" y="590.2" width="1.1" height="1.1" fill="#0000ff" opacity="0.59"/>
<rect x="433.8" y="589.2" width="1.1" height="1.1" fill="#00a0ff" opacity="0.67"/>
<rect x="425.2" y="604.3" width="1.1" height="1.1" fill="#00e0f0" opacity="0.87"/>
<rect x="410.2" y="595.2" width="1.1" height="1.1" fill="#a0ff60" opacity="0.57"/>
<rect x="446.7" y="602.1" width="1.1" height="1.1" fill="#0050ff" opacity="0.83"/>
<rect x="411.3" y="599.1" width="1.1" height="1.1" fill="#40ffc0" opacity="0.59"/>
<rect x="448.6" y="603.1" width="1.1" height="1.1" fill="#40ffc0" opacity="0.54"/>
<rect x="406.0" y="590.7" width="1.1" height="1.1" fill="#40ffc0" opacity="0.93"/>
<rect x="415.1" y="600.3" width="1.1" height="1.1" fill="#00a0ff" opacity="0.69"/>
<rect x="446.5" y="596.9" width="1.1" height="1.1" fill="#40ffc0" opacity="0.58"/>
<rect x="437.8" y="590.1" width="1.1" height="1.1" fill="#0050ff" opacity="0.72"/>
<rect x="434.6" y="598.9" width="1.1" height="1.1" fill="#0000ff" opacity="0.63"/>
<rect x="447.1" y="592.3" width="1.1" height="1.1" fill="#0000ff" opacity="0.53"/>
<rect x="423.2" y="593.0" width="1.1" height="1.1" fill="#0000ff" opacity="0.58"/>
<rect x="421.2" y="598.2" width="1.1" height="1.1" fill="#0050ff" opacity="0.54"/>
<rect x="410.3" y="596.2" width="1.1" height="1.1" fill="#00a0ff" opacity="0.80"/>
<rect x="436.4" y="598.4" width="1.1" height="1.1" fill="#0050ff" opacity="0.77"/>
<rect x="447.4" y="596.6" width="1.1" height="1.1" fill="#00a0ff" opacity="0.82"/>
<rect x="449.2" y="589.3" width="1.1" height="1.1" fill="#a0ff60" opacity="0.53"/>
<rect x="407.0" y="594.0" width="1.1" height="1.1" fill="#0050ff" opacity="0.95"/>
<rect x="407.4" y="597.7" width="1.1" height="1.1" fill="#a0ff60" opacity="0.52"/>
<rect x="448.0" y="600.8" width="1.1" height="1.1" fill="#0050ff" opacity="0.86"/>
<rect x="447.0" y="594.6" width="1.1" height="1.1" fill="#a0ff60" opacity="0.71"/>
<rect x="407.5" y="602.7" width="1.1" height="1.1" fill="#0000ff" opacity="0.89"/>
<rect x="430.8" y="599.0" width="1.1" height="1.1" fill="#00e0f0" opacity="0.67"/>
<rect x="404.4" y="590.2" width="1.1" height="1.1" fill="#0000ff" opacity="0.79"/>
<rect x="450.7" y="603.1" width="1.1" height="1.1" fill="#a0ff60" opacity="0.65"/>
<rect x="447.9" y="600.1" width="1.1" height="1.1" fill="#00e0f0" opacity="0.70"/>
<rect x="443.4" y="590.3" width="1.1" height="1.1" fill="#40ffc0" opacity="0.51"/>
<rect x="432.2" y="596.7" width="1.1" height="1.1" fill="#0050ff" opacity="0.93"/>
<rect x="409.1" y="601.5" width="1.1" height="1.1" fill="#a0ff60" opacity="0.91"/>
<rect x="415.9" y="589.2" width="1.1" height="1.1" fill="#00a0ff" opacity="0.56"/>
<rect x="432.7" y="597.3" width="1.1" height="1.1" fill="#00a0ff" opacity="0.80"/>
<rect x="424.7" y="603.3" width="1.1" height="1.1" fill="#00a0ff" opacity="0.68"/>
<rect x="415.6" y="599.1" width="1.1" height="1.1" fill="#0050ff" opacity="0.90"/>
<rect x="421.9" y="598.3" width="1.1" height="1.1" fill="#00a0ff" opacity="0.59"/>
<rect x="410.2" y="594.6" width="1.1" height="1.1" fill="#0000ff" opacity="0.82"/>
<rect x="448.6" y="593.4" width="1.1" height="1.1" fill="#0050ff" opacity="0.55"/>
<rect x="426.0" y="603.8" width="1.1" height="1.1" fill="#00e0f0" opacity="0.67"/>
<rect x="428.3" y="599.8" width="1.1" height="1.1" fill="#a0ff60" opacity="0.88"/>
<rect x="450.2" y="596.2" width="1.1" height="1.1" fill="#0000ff" opacity="0.87"/>
<rect x="416.9" y="598.7" width="1.1" height="1.1" fill="#a0ff60" opacity="0.82"/>
<rect x="430.7" y="593.9" width="1.1" height="1.1" fill="#40ffc0" opacity="0.51"/>
<rect x="410.2" y="596.3" width="1.1" height="1.1" fill="#0000ff" opacity="0.85"/>
<rect x="416.4" y="601.5" width="1.1" height="1.1" fill="#0000ff" opacity="0.94"/>
<rect x="409.2" y="590.7" width="1.1" height="1.1" fill="#40ffc0" opacity="0.79"/>
<rect x="441.9" y="604.3" width="1.1" height="1.1" fill="#a0ff60" opacity="0.59"/>
<rect x="442.7" y="593.1" width="1.1" height="1.1" fill="#a0ff60" opacity="0.50"/>
<rect x="426.1" y="600.4" width="1.1" height="1.1" fill="#0050ff" opacity="0.60"/>
<rect x="440.5" y="597.6" width="1.1" height="1.1" fill="#40ffc0" opacity="0.73"/>
<rect x="450.8" y="591.5" width="1.1" height="1.1" fill="#a0ff60" opacity="0.91"/>
<rect x="407.9" y="603.9" width="1.1" height="1.1" fill="#a0ff60" opacity="0.67"/>
<rect x="425.1" y="592.2" width="1.1" height="1.1" fill="#0000ff" opacity="0.67"/>
<rect x="430.6" y="603.1" width="1.1" height="1.1" fill="#00a0ff" opacity="0.71"/>
<rect x="434.5" y="592.3" width="1.1" height="1.1" fill="#a0ff60" opacity="0.89"/>
<rect x="441.5" y="603.8" width="1.1" height="1.1" fill="#0000ff" opacity="0.60"/>
<rect x="446.3" y="604.7" width="1.1" height="1.1" fill="#00a0ff" opacity="0.74"/>
<rect x="441.1" y="594.1" width="1.1" height="1.1" fill="#a0ff60" opacity="0.89"/>
<rect x="420.2" y="590.3" width="1.1" height="1.1" fill="#00e0f0" opacity="0.65"/>
<rect x="423.7" y="593.4" width="1.1" height="1.1" fill="#0000ff" opacity="0.60"/>
<rect x="444.7" y="595.9" width="1.1" height="1.1" fill="#0000ff" opacity="0.58"/>
<rect x="419.6" y="601.6" width="1.1" height="1.1" fill="#0050ff" opacity="0.71"/>
<rect x="451.0" y="603.4" width="1.1" height="1.1" fill="#40ffc0" opacity="0.88"/>
<rect x="436.3" y="604.1" width="1.1" height="1.1" fill="#00e0f0" opacity="0.76"/>
<rect x="436.3" y="601.1" width="1.1" height="1.1" fill="#00e0f0" opacity="0.74"/>
<rect x="417.5" y="600.7" width="1.1" height="1.1" fill="#a0ff60" opacity="0.57"/>
<rect x="428.1" y="603.5" width="1.1" height="1.1" fill="#00a0ff" opacity="0.64"/>
<rect x="421.8" y="602.5" width="1.1" height="1.1" fill="#40ffc0" opacity="0.59"/>
<rect x="444.0" y="604.5" width="1.1" height="1.1" fill="#40ffc0" opacity="0.62"/>
<rect x="427.3" y="595.6" width="1.1" height="1.1" fill="#0000ff" opacity="0.73"/>
<rect x="432.4" y="589.4" width="1.1" height="1.1" fill="#0000ff" opacity="0.73"/>
<rect x="422.7" y="601.8" width="1.1" height="1.1" fill="#40ffc0" opacity="0.55"/>
<rect x="408.2" y="591.7" width="1.1" height="1.1" fill="#40ffc0" opacity="0.71"/>
<rect x="447.3" y="601.8" width="1.1" height="1.1" fill="#00e0f0" opacity="0.62"/>
<rect x="426.1" y="591.0" width="1.1" height="1.1" fill="#00e0f0" opacity="0.91"/>
<rect x="448.0" y="603.7" width="1.1" height="1.1" fill="#40ffc0" opacity="0.64"/>
<rect x="412.8" y="598.9" width="1.1" height="1.1" fill="#00a0ff" opacity="0.56"/>
<rect x="440.6" y="589.4" width="1.1" height="1.1" fill="#0050ff" opacity="0.57"/>
<rect x="404.4" y="593.5" width="1.1" height="1.1" fill="#a0ff60" opacity="0.66"/>
<rect x="433.1" y="590.7" width="1.1" height="1.1" fill="#a0ff60" opacity="0.76"/>
<rect x="444.0" y="599.0" width="1.1" height="1.1" fill="#a0ff60" opacity="0.59"/>
<rect x="428.8" y="596.0" width="1.1" height="1.1" fill="#00e0f0" opacity="0.78"/>
<rect x="442.7" y="598.9" width="1.1" height="1.1" fill="#40ffc0" opacity="0.59"/>
<rect x="433.6" y="599.2" width="1.1" height="1.1" fill="#40ffc0" opacity="0.60"/>
<rect x="429.4" y="679.4" width="1.1" height="1.1" fill="#0050ff" opacity="0.60"/>
<rect x="438.8" y="683.0" width="1.1" height="1.1" fill="#0050ff" opacity="0.64"/>
<rect x="418.7" y="684.8" width="1.1" height="1.1" fill="#0050ff" opacity="0.85"/>
<rect x="413.0" y="671.5" width="1.1" height="1.1" fill="#0050ff" opacity="0.56"/>
<rect x="408.0" y="676.2" width="1.1" height="1.1" fill="#00e0f0" opacity="0.87"/>
<rect x="423.7" y="682.6" width="1.1" height="1.1" fill="#0050ff" opacity="0.59"/>
<rect x="433.4" y="682.8" width="1.1" height="1.1" fill="#0000ff" opacity="0.59"/>
<rect x="436.0" y="684.6" width="1.1" height="1.1" fill="#00a0ff" opacity="0.55"/>
<rect x="427.7" y="682.1" width="1.1" height="1.1" fill="#40ffc0" opacity="0.95"/>
<rect x="443.1" y="682.8" width="1.1" height="1.1" fill="#00e0f0" opacity="0.55"/>
<rect x="405.6" y="678.8" width="1.1" height="1.1" fill="#40ffc0" opacity="0.91"/>
<rect x="426.5" y="673.0" width="1.1" height="1.1" fill="#0000ff" opacity="0.59"/>
<rect x="443.5" y="685.8" width="1.1" height="1.1" fill="#a0ff60" opacity="0.54"/>
<rect x="406.7" y="685.2" width="1.1" height="1.1" fill="#00e0f0" opacity="0.53"/>
<rect x="408.4" y="676.3" width="1.1" height="1.1" fill="#00e0f0" opacity="0.73"/>
<rect x="424.1" y="679.6" width="1.1" height="1.1" fill="#0000ff" opacity="0.79"/>
<rect x="405.7" y="673.2" width="1.1" height="1.1" fill="#00e0f0" opacity="0.70"/>
<rect x="438.7" y="676.5" width="1.1" height="1.1" fill="#0050ff" opacity="0.77"/>
<rect x="408.3" y="682.7" width="1.1" height="1.1" fill="#00a0ff" opacity="0.90"/>
<rect x="441.6" y="681.3" width="1.1" height="1.1" fill="#a0ff60" opacity="0.92"/>
<rect x="430.7" y="673.1" width="1.1" height="1.1" fill="#40ffc0" opacity="0.94"/>
<rect x="441.8" y="674.1" width="1.1" height="1.1" fill="#0000ff" opacity="0.83"/>
<rect x="440.5" y="683.0" width="1.1" height="1.1" fill="#00e0f0" opacity="0.56"/>
<rect x="419.4" y="678.6" width="1.1" height="1.1" fill="#00a0ff" opacity="0.85"/>
<rect x="439.9" y="676.5" width="1.1" height="1.1" fill="#a0ff60" opacity="0.58"/>
<rect x="441.4" y="674.8" width="1.1" height="1.1" fill="#0000ff" opacity="0.50"/>
<rect x="420.6" y="680.2" width="1.1" height="1.1" fill="#40ffc0" opacity="0.52"/>
<rect x="416.7" y="685.4" width="1.1" height="1.1" fill="#00a0ff" opacity="0.65"/>
<rect x="434.9" y="679.1" width="1.1" height="1.1" fill="#40ffc0" opacity="0.53"/>
<rect x="428.1" y="678.0" width="1.1" height="1.1" fill="#0050ff" opacity="0.82"/>
<rect x="439.8" y="685.7" width="1.1" height="1.1" fill="#0000ff" opacity="0.55"/>
<rect x="408.9" y="673.8" width="1.1" height="1.1" fill="#00e0f0" opacity="0.68"/>
<rect x="406.2" y="673.1" width="1.1" height="1.1" fill="#00e0f0" opacity="0.50"/>
<rect x="416.0" y="674.4" width="1.1" height="1.1" fill="#00a0ff" opacity="0.75"/>
<rect x="427.8" y="685.5" width="1.1" height="1.1" fill="#40ffc0" opacity="0.88"/>
<rect x="408.5" y="677.1" width="1.1" height="1.1" fill="#a0ff60" opacity="0.53"/>
<rect x="432.0" y="682.1" width="1.1" height="1.1" fill="#0000ff" opacity="0.67"/>
<rect x="448.1" y="676.2" width="1.1" height="1.1" fill="#0050ff" opacity="0.89"/>
<rect x="429.4" y="679.5" width="1.1" height="1.1" fill="#00e0f0" opacity="0.93"/>
<rect x="423.7" y="678.4" width="1.1" height="1.1" fill="#40ffc0" opacity="0.64"/>
<rect x="428.8" y="677.7" width="1.1" height="1.1" fill="#00a0ff" opacity="0.75"/>
<rect x="417.2" y="681.5" width="1.1" height="1.1" fill="#00a0ff" opacity="0.51"/>
<rect x="440.3" y="679.4" width="1.1" height="1.1" fill="#a0ff60" opacity="0.57"/>
<rect x="439.4" y="676.2" width="1.1" height="1.1" fill="#00a0ff" opacity="0.84"/>
<rect x="406.2" y="685.8" width="1.1" height="1.1" fill="#00a0ff" opacity="0.53"/>
<rect x="446.5" y="676.9" width="1.1" height="1.1" fill="#00e0f0" opacity="0.61"/>
<rect x="439.5" y="670.7" width="1.1" height="1.1" fill="#0000ff" opacity="0.92"/>
<rect x="437.9" y="677.5" width="1.1" height="1.1" fill="#0050ff" opacity="0.77"/>
<rect x="409.2" y="680.0" width="1.1" height="1.1" fill="#00e0f0" opacity="0.55"/>
<rect x="444.4" y="675.7" width="1.1" height="1.1" fill="#0050ff" opacity="0.56"/>
<rect x="424.7" y="680.7" width="1.1" height="1.1" fill="#00e0f0" opacity="0.77"/>
<rect x="434.0" y="680.9" width="1.1" height="1.1" fill="#00a0ff" opacity="0.85"/>
<rect x="428.9" y="686.0" width="1.1" height="1.1" fill="#00a0ff" opacity="0.83"/>
<rect x="415.1" y="671.8" width="1.1" height="1.1" fill="#00a0ff" opacity="0.85"/>
<rect x="433.3" y="675.7" width="1.1" height="1.1" fill="#00a0ff" opacity="0.77"/>
<rect x="438.0" y="681.2" width="1.1" height="1.1" fill="#0050ff" opacity="0.78"/>
<rect x="439.4" y="673.0" width="1.1" height="1.1" fill="#0050ff" opacity="0.73"/>
<rect x="434.6" y="673.1" width="1.1" height="1.1" fill="#a0ff60" opacity="0.52"/>
<rect x="406.7" y="674.3" width="1.1" height="1.1" fill="#00e0f0" opacity="0.51"/>
<rect x="405.6" y="673.6" width="1.1" height="1.1" fill="#00a0ff" opacity="0.53"/>
<rect x="407.9" y="680.8" width="1.1" height="1.1" fill="#40ffc0" opacity="0.61"/>
<rect x="450.1" y="677.7" width="1.1" height="1.1" fill="#00a0ff" opacity="0.59"/>
<rect x="420.0" y="681.9" width="1.1" height="1.1" fill="#0000ff" opacity="0.86"/>
<rect x="424.9" y="683.2" width="1.1" height="1.1" fill="#0050ff" opacity="0.70"/>
<rect x="439.1" y="676.2" width="1.1" height="1.1" fill="#0050ff" opacity="0.67"/>
<rect x="434.7" y="685.8" width="1.1" height="1.1" fill="#00a0ff" opacity="0.63"/>
<rect x="439.6" y="683.2" width="1.1" height="1.1" fill="#0050ff" opacity="0.69"/>
<rect x="421.2" y="671.6" width="1.1" height="1.1" fill="#00a0ff" opacity="0.54"/>
<rect x="407.7" y="679.0" width="1.1" height="1.1" fill="#00e0f0" opacity="0.87"/>
<rect x="425.7" y="683.2" width="1.1" height="1.1" fill="#0000ff" opacity="0.53"/>
<rect x="413.9" y="680.6" width="1.1" height="1.1" fill="#0000ff" opacity="0.81"/>
<rect x="427.2" y="682.2" width="1.1" height="1.1" fill="#00a0ff" opacity="0.63"/>
<rect x="410.5" y="675.7" width="1.1" height="1.1" fill="#a0ff60" opacity="0.65"/>
<rect x="446.6" y="675.2" width="1.1" height="1.1" fill="#00e0f0" opacity="0.76"/>
<rect x="447.2" y="685.0" width="1.1" height="1.1" fill="#00a0ff" opacity="0.70"/>
<rect x="441.7" y="674.9" width="1.1" height="1.1" fill="#00a0ff" opacity="0.60"/>
<rect x="449.5" y="681.7" width="1.1" height="1.1" fill="#40ffc0" opacity="0.61"/>
<rect x="420.9" y="675.8" width="1.1" height="1.1" fill="#00a0ff" opacity="0.80"/>
<rect x="431.4" y="682.7" width="1.1" height="1.1" fill="#a0ff60" opacity="0.75"/>
<rect x="441.4" y="678.6" width="1.1" height="1.1" fill="#40ffc0" opacity="0.75"/>
<rect x="412.1" y="682.1" width="1.1" height="1.1" fill="#00a0ff" opacity="0.87"/>
<rect x="414.2" y="670.9" width="1.1" height="1.1" fill="#0050ff" opacity="0.76"/>
<rect x="449.4" y="680.4" width="1.1" height="1.1" fill="#00e0f0" opacity="0.53"/>
<rect x="429.6" y="682.6" width="1.1" height="1.1" fill="#0000ff" opacity="0.65"/>
<rect x="416.7" y="671.7" width="1.1" height="1.1" fill="#00a0ff" opacity="0.54"/>
<rect x="433.7" y="672.3" width="1.1" height="1.1" fill="#a0ff60" opacity="0.87"/>
<rect x="423.7" y="681.4" width="1.1" height="1.1" fill="#00e0f0" opacity="0.84"/>
<rect x="428.4" y="682.2" width="1.1" height="1.1" fill="#00e0f0" opacity="0.66"/>
<rect x="441.9" y="675.3" width="1.1" height="1.1" fill="#0050ff" opacity="0.72"/>
<rect x="429.2" y="681.5" width="1.1" height="1.1" fill="#a0ff60" opacity="0.78"/>
<rect x="406.0" y="682.1" width="1.1" height="1.1" fill="#a0ff60" opacity="0.66"/>
<rect x="404.0" y="676.0" width="1.1" height="1.1" fill="#0000ff" opacity="0.90"/>
<rect x="449.0" y="680.2" width="1.1" height="1.1" fill="#40ffc0" opacity="0.66"/>
<rect x="404.3" y="671.8" width="1.1" height="1.1" fill="#00e0f0" opacity="0.91"/>
<rect x="415.4" y="672.6" width="1.1" height="1.1" fill="#a0ff60" opacity="0.67"/>
<rect x="411.7" y="673.3" width="1.1" height="1.1" fill="#00e0f0" opacity="0.74"/>
<rect x="416.7" y="684.2" width="1.1" height="1.1" fill="#00e0f0" opacity="0.64"/>
<rect x="409.2" y="680.4" width="1.1" height="1.1" fill="#0050ff" opacity="0.91"/>
<rect x="439.3" y="670.3" width="1.1" height="1.1" fill="#00e0f0" opacity="0.91"/>
<rect x="405.5" y="671.7" width="1.1" height="1.1" fill="#0050ff" opacity="0.66"/>
<rect x="431.6" y="679.6" width="1.1" height="1.1" fill="#00e0f0" opacity="0.77"/>
<rect x="414.4" y="673.0" width="1.1" height="1.1" fill="#00a0ff" opacity="0.68"/>
<rect x="446.8" y="685.0" width="1.1" height="1.1" fill="#a0ff60" opacity="0.75"/>
<rect x="442.4" y="677.7" width="1.1" height="1.1" fill="#00a0ff" opacity="0.72"/>
<rect x="422.8" y="685.3" width="1.1" height="1.1" fill="#a0ff60" opacity="0.75"/>
<rect x="449.0" y="677.7" width="1.1" height="1.1" fill="#0050ff" opacity="0.68"/>
<rect x="414.1" y="672.1" width="1.1" height="1.1" fill="#00e0f0" opacity="0.94"/>
<rect x="441.3" y="682.4" width="1.1" height="1.1" fill="#0000ff" opacity="0.80"/>
<rect x="415.0" y="670.2" width="1.1" height="1.1" fill="#00e0f0" opacity="0.91"/>
<rect x="425.0" y="673.9" width="1.1" height="1.1" fill="#00e0f0" opacity="0.77"/>
<linearGradient id="vm_b2g" x1="0" y1="0" x2="0" y2="1"><stop offset="0" stop-color="#fff" stop-opacity="0"/><stop offset="0.12" stop-color="#fff" stop-opacity="1"/><stop offset="0.88" stop-color="#fff" stop-opacity="1"/><stop offset="1" stop-color="#fff" stop-opacity="0"/></linearGradient><mask id="vm_b2" maskUnits="userSpaceOnUse" x="849.6" y="580" width="49.6" height="87"><rect x="849.6" y="580" width="49.6" height="87" fill="url(#vm_b2g)"/></mask>
<g transform="translate(874.8,623.5) skewY(26) translate(-874.8,-623.5)">
<g mask="url(#vm_b2)"><rect x="849.6" y="580" width="49.6" height="87" fill="url(#hx_bt)"/><rect x="849.6" y="580" width="49.6" height="87" fill="url(#vx_bt)"/></g>
<ellipse cx="874.8" cy="623.5" rx="19" ry="34" fill="url(#core_bt)"/>
<rect x="857.3" y="576.7" width="1.1" height="1.1" fill="#00a0ff" opacity="0.57"/>
<rect x="894.0" y="587.8" width="1.1" height="1.1" fill="#0050ff" opacity="0.79"/>
<rect x="898.2" y="578.5" width="1.1" height="1.1" fill="#40ffc0" opacity="0.52"/>
<rect x="877.6" y="577.0" width="1.1" height="1.1" fill="#0050ff" opacity="0.87"/>
<rect x="891.0" y="588.0" width="1.1" height="1.1" fill="#0000ff" opacity="0.66"/>
<rect x="879.7" y="583.0" width="1.1" height="1.1" fill="#00e0f0" opacity="0.81"/>
<rect x="853.7" y="586.7" width="1.1" height="1.1" fill="#40ffc0" opacity="0.89"/>
<rect x="864.4" y="587.4" width="1.1" height="1.1" fill="#00e0f0" opacity="0.59"/>
<rect x="883.0" y="587.3" width="1.1" height="1.1" fill="#00e0f0" opacity="0.59"/>
<rect x="876.2" y="582.9" width="1.1" height="1.1" fill="#0050ff" opacity="0.93"/>
<rect x="896.7" y="579.4" width="1.1" height="1.1" fill="#00e0f0" opacity="0.53"/>
<rect x="864.5" y="581.9" width="1.1" height="1.1" fill="#a0ff60" opacity="0.53"/>
<rect x="853.2" y="576.4" width="1.1" height="1.1" fill="#a0ff60" opacity="0.68"/>
<rect x="872.2" y="590.4" width="1.1" height="1.1" fill="#0000ff" opacity="0.79"/>
<rect x="850.2" y="580.4" width="1.1" height="1.1" fill="#a0ff60" opacity="0.71"/>
<rect x="864.0" y="575.9" width="1.1" height="1.1" fill="#0000ff" opacity="0.89"/>
<rect x="890.9" y="586.2" width="1.1" height="1.1" fill="#40ffc0" opacity="0.57"/>
<rect x="880.3" y="589.9" width="1.1" height="1.1" fill="#a0ff60" opacity="0.63"/>
<rect x="866.1" y="580.7" width="1.1" height="1.1" fill="#a0ff60" opacity="0.54"/>
<rect x="858.8" y="580.4" width="1.1" height="1.1" fill="#0000ff" opacity="0.65"/>
<rect x="895.8" y="583.6" width="1.1" height="1.1" fill="#a0ff60" opacity="0.79"/>
<rect x="871.5" y="580.5" width="1.1" height="1.1" fill="#0000ff" opacity="0.56"/>
<rect x="854.2" y="585.5" width="1.1" height="1.1" fill="#a0ff60" opacity="0.58"/>
<rect x="859.0" y="574.6" width="1.1" height="1.1" fill="#00e0f0" opacity="0.77"/>
<rect x="854.0" y="577.9" width="1.1" height="1.1" fill="#0050ff" opacity="0.94"/>
<rect x="870.8" y="587.1" width="1.1" height="1.1" fill="#00a0ff" opacity="0.91"/>
<rect x="870.5" y="582.7" width="1.1" height="1.1" fill="#a0ff60" opacity="0.59"/>
<rect x="856.8" y="585.8" width="1.1" height="1.1" fill="#00e0f0" opacity="0.65"/>
<rect x="869.8" y="574.3" width="1.1" height="1.1" fill="#00e0f0" opacity="0.78"/>
<rect x="865.1" y="587.4" width="1.1" height="1.1" fill="#0050ff" opacity="0.80"/>
<rect x="879.4" y="574.3" width="1.1" height="1.1" fill="#00a0ff" opacity="0.58"/>
<rect x="864.6" y="581.5" width="1.1" height="1.1" fill="#40ffc0" opacity="0.67"/>
<rect x="874.5" y="587.4" width="1.1" height="1.1" fill="#0000ff" opacity="0.78"/>
<rect x="857.3" y="587.0" width="1.1" height="1.1" fill="#00a0ff" opacity="0.75"/>
<rect x="866.8" y="582.5" width="1.1" height="1.1" fill="#0050ff" opacity="0.76"/>
<rect x="859.3" y="589.9" width="1.1" height="1.1" fill="#a0ff60" opacity="0.82"/>
<rect x="895.4" y="583.6" width="1.1" height="1.1" fill="#0000ff" opacity="0.78"/>
<rect x="859.3" y="575.4" width="1.1" height="1.1" fill="#0050ff" opacity="0.72"/>
<rect x="870.0" y="579.7" width="1.1" height="1.1" fill="#0000ff" opacity="0.92"/>
<rect x="867.3" y="581.9" width="1.1" height="1.1" fill="#0000ff" opacity="0.70"/>
<rect x="885.3" y="578.1" width="1.1" height="1.1" fill="#40ffc0" opacity="0.74"/>
<rect x="877.0" y="583.5" width="1.1" height="1.1" fill="#00a0ff" opacity="0.58"/>
<rect x="886.1" y="589.2" width="1.1" height="1.1" fill="#00a0ff" opacity="0.77"/>
<rect x="855.6" y="588.0" width="1.1" height="1.1" fill="#00a0ff" opacity="0.81"/>
<rect x="867.4" y="586.9" width="1.1" height="1.1" fill="#00a0ff" opacity="0.87"/>
<rect x="858.7" y="583.3" width="1.1" height="1.1" fill="#0000ff" opacity="0.70"/>
<rect x="869.3" y="587.3" width="1.1" height="1.1" fill="#a0ff60" opacity="0.56"/>
<rect x="886.6" y="588.4" width="1.1" height="1.1" fill="#00e0f0" opacity="0.78"/>
<rect x="880.9" y="587.0" width="1.1" height="1.1" fill="#0050ff" opacity="0.59"/>
<rect x="872.5" y="576.4" width="1.1" height="1.1" fill="#00e0f0" opacity="0.55"/>
<rect x="869.4" y="579.7" width="1.1" height="1.1" fill="#0050ff" opacity="0.62"/>
<rect x="877.4" y="579.6" width="1.1" height="1.1" fill="#a0ff60" opacity="0.85"/>
<rect x="884.9" y="587.4" width="1.1" height="1.1" fill="#00e0f0" opacity="0.93"/>
<rect x="878.9" y="582.0" width="1.1" height="1.1" fill="#00e0f0" opacity="0.90"/>
<rect x="894.2" y="583.6" width="1.1" height="1.1" fill="#00e0f0" opacity="0.84"/>
<rect x="873.4" y="590.9" width="1.1" height="1.1" fill="#a0ff60" opacity="0.68"/>
<rect x="870.8" y="583.6" width="1.1" height="1.1" fill="#40ffc0" opacity="0.65"/>
<rect x="875.1" y="581.1" width="1.1" height="1.1" fill="#0000ff" opacity="0.64"/>
<rect x="852.3" y="586.3" width="1.1" height="1.1" fill="#00e0f0" opacity="0.83"/>
<rect x="878.8" y="586.8" width="1.1" height="1.1" fill="#00a0ff" opacity="0.90"/>
<rect x="892.5" y="578.2" width="1.1" height="1.1" fill="#00e0f0" opacity="0.61"/>
<rect x="892.3" y="590.5" width="1.1" height="1.1" fill="#00e0f0" opacity="0.81"/>
<rect x="875.3" y="578.1" width="1.1" height="1.1" fill="#00a0ff" opacity="0.80"/>
<rect x="895.6" y="589.0" width="1.1" height="1.1" fill="#a0ff60" opacity="0.93"/>
<rect x="882.2" y="588.7" width="1.1" height="1.1" fill="#00e0f0" opacity="0.75"/>
<rect x="857.6" y="585.0" width="1.1" height="1.1" fill="#00e0f0" opacity="0.76"/>
<rect x="893.8" y="575.7" width="1.1" height="1.1" fill="#0050ff" opacity="0.56"/>
<rect x="875.9" y="590.2" width="1.1" height="1.1" fill="#0000ff" opacity="0.63"/>
<rect x="885.2" y="574.4" width="1.1" height="1.1" fill="#0050ff" opacity="0.53"/>
<rect x="893.4" y="587.9" width="1.1" height="1.1" fill="#00e0f0" opacity="0.56"/>
<rect x="883.5" y="577.9" width="1.1" height="1.1" fill="#00a0ff" opacity="0.51"/>
<rect x="893.5" y="579.2" width="1.1" height="1.1" fill="#00e0f0" opacity="0.56"/>
<rect x="887.6" y="587.2" width="1.1" height="1.1" fill="#0050ff" opacity="0.59"/>
<rect x="891.6" y="585.8" width="1.1" height="1.1" fill="#0000ff" opacity="0.59"/>
<rect x="890.6" y="580.0" width="1.1" height="1.1" fill="#00e0f0" opacity="0.51"/>
<rect x="880.7" y="585.9" width="1.1" height="1.1" fill="#40ffc0" opacity="0.59"/>
<rect x="880.5" y="577.3" width="1.1" height="1.1" fill="#0000ff" opacity="0.79"/>
<rect x="864.6" y="587.9" width="1.1" height="1.1" fill="#00a0ff" opacity="0.89"/>
<rect x="884.5" y="576.3" width="1.1" height="1.1" fill="#a0ff60" opacity="0.93"/>
<rect x="887.7" y="581.1" width="1.1" height="1.1" fill="#0050ff" opacity="0.60"/>
<rect x="864.6" y="586.1" width="1.1" height="1.1" fill="#0050ff" opacity="0.62"/>
<rect x="884.8" y="582.5" width="1.1" height="1.1" fill="#00a0ff" opacity="0.86"/>
<rect x="867.8" y="585.3" width="1.1" height="1.1" fill="#0000ff" opacity="0.77"/>
<rect x="860.8" y="579.1" width="1.1" height="1.1" fill="#0050ff" opacity="0.80"/>
<rect x="863.1" y="584.9" width="1.1" height="1.1" fill="#0000ff" opacity="0.71"/>
<rect x="853.3" y="589.6" width="1.1" height="1.1" fill="#0000ff" opacity="0.74"/>
<rect x="851.8" y="584.2" width="1.1" height="1.1" fill="#00a0ff" opacity="0.74"/>
<rect x="870.3" y="583.7" width="1.1" height="1.1" fill="#0050ff" opacity="0.63"/>
<rect x="886.6" y="578.2" width="1.1" height="1.1" fill="#00a0ff" opacity="0.83"/>
<rect x="851.0" y="587.4" width="1.1" height="1.1" fill="#0050ff" opacity="0.94"/>
<rect x="851.2" y="581.8" width="1.1" height="1.1" fill="#40ffc0" opacity="0.67"/>
<rect x="895.0" y="582.5" width="1.1" height="1.1" fill="#0050ff" opacity="0.53"/>
<rect x="887.6" y="589.5" width="1.1" height="1.1" fill="#00a0ff" opacity="0.80"/>
<rect x="887.9" y="582.8" width="1.1" height="1.1" fill="#40ffc0" opacity="0.87"/>
<rect x="880.6" y="590.7" width="1.1" height="1.1" fill="#a0ff60" opacity="0.93"/>
<rect x="858.1" y="587.3" width="1.1" height="1.1" fill="#0050ff" opacity="0.55"/>
<rect x="870.9" y="585.4" width="1.1" height="1.1" fill="#40ffc0" opacity="0.85"/>
<rect x="888.1" y="587.4" width="1.1" height="1.1" fill="#0050ff" opacity="0.62"/>
<rect x="876.2" y="588.5" width="1.1" height="1.1" fill="#40ffc0" opacity="0.72"/>
<rect x="851.3" y="584.1" width="1.1" height="1.1" fill="#a0ff60" opacity="0.52"/>
<rect x="871.5" y="589.0" width="1.1" height="1.1" fill="#00a0ff" opacity="0.57"/>
<rect x="850.5" y="582.4" width="1.1" height="1.1" fill="#00e0f0" opacity="0.73"/>
<rect x="885.0" y="588.6" width="1.1" height="1.1" fill="#0000ff" opacity="0.53"/>
<rect x="894.0" y="583.7" width="1.1" height="1.1" fill="#40ffc0" opacity="0.76"/>
<rect x="884.9" y="584.6" width="1.1" height="1.1" fill="#0000ff" opacity="0.64"/>
<rect x="851.7" y="579.3" width="1.1" height="1.1" fill="#40ffc0" opacity="0.83"/>
<rect x="887.8" y="587.0" width="1.1" height="1.1" fill="#00e0f0" opacity="0.54"/>
<rect x="889.7" y="576.9" width="1.1" height="1.1" fill="#00a0ff" opacity="0.61"/>
<rect x="873.9" y="585.2" width="1.1" height="1.1" fill="#40ffc0" opacity="0.85"/>
<rect x="852.6" y="581.0" width="1.1" height="1.1" fill="#00a0ff" opacity="0.81"/>
<rect x="884.0" y="590.3" width="1.1" height="1.1" fill="#0050ff" opacity="0.72"/>
<rect x="886.8" y="590.8" width="1.1" height="1.1" fill="#0050ff" opacity="0.84"/>
<rect x="875.1" y="590.8" width="1.1" height="1.1" fill="#0000ff" opacity="0.61"/>
<rect x="893.1" y="576.4" width="1.1" height="1.1" fill="#00e0f0" opacity="0.75"/>
<rect x="872.7" y="589.9" width="1.1" height="1.1" fill="#0000ff" opacity="0.81"/>
<rect x="884.7" y="590.6" width="1.1" height="1.1" fill="#40ffc0" opacity="0.60"/>
<rect x="862.0" y="583.4" width="1.1" height="1.1" fill="#0050ff" opacity="0.69"/>
<rect x="853.8" y="577.9" width="1.1" height="1.1" fill="#00a0ff" opacity="0.65"/>
<rect x="897.6" y="584.4" width="1.1" height="1.1" fill="#0000ff" opacity="0.57"/>
<rect x="878.2" y="590.9" width="1.1" height="1.1" fill="#a0ff60" opacity="0.65"/>
<rect x="883.6" y="670.7" width="1.1" height="1.1" fill="#40ffc0" opacity="0.92"/>
<rect x="858.3" y="670.6" width="1.1" height="1.1" fill="#0050ff" opacity="0.67"/>
<rect x="887.8" y="659.7" width="1.1" height="1.1" fill="#00a0ff" opacity="0.61"/>
<rect x="888.4" y="669.7" width="1.1" height="1.1" fill="#00e0f0" opacity="0.59"/>
<rect x="860.1" y="664.0" width="1.1" height="1.1" fill="#00a0ff" opacity="0.71"/>
<rect x="873.6" y="666.7" width="1.1" height="1.1" fill="#0050ff" opacity="0.89"/>
<rect x="859.6" y="662.5" width="1.1" height="1.1" fill="#0000ff" opacity="0.52"/>
<rect x="863.1" y="672.1" width="1.1" height="1.1" fill="#40ffc0" opacity="0.51"/>
<rect x="858.5" y="660.5" width="1.1" height="1.1" fill="#00e0f0" opacity="0.76"/>
<rect x="881.4" y="659.7" width="1.1" height="1.1" fill="#0000ff" opacity="0.66"/>
<rect x="857.1" y="671.9" width="1.1" height="1.1" fill="#00a0ff" opacity="0.56"/>
<rect x="861.4" y="670.3" width="1.1" height="1.1" fill="#0000ff" opacity="0.51"/>
<rect x="865.3" y="662.5" width="1.1" height="1.1" fill="#0000ff" opacity="0.88"/>
<rect x="868.2" y="660.4" width="1.1" height="1.1" fill="#40ffc0" opacity="0.80"/>
<rect x="864.4" y="666.3" width="1.1" height="1.1" fill="#00e0f0" opacity="0.52"/>
<rect x="857.0" y="666.1" width="1.1" height="1.1" fill="#0000ff" opacity="0.59"/>
<rect x="869.7" y="664.1" width="1.1" height="1.1" fill="#a0ff60" opacity="0.56"/>
<rect x="884.2" y="660.4" width="1.1" height="1.1" fill="#a0ff60" opacity="0.70"/>
<rect x="868.0" y="671.0" width="1.1" height="1.1" fill="#00a0ff" opacity="0.74"/>
<rect x="871.6" y="658.3" width="1.1" height="1.1" fill="#40ffc0" opacity="0.89"/>
<rect x="860.7" y="661.0" width="1.1" height="1.1" fill="#00a0ff" opacity="0.78"/>
<rect x="856.5" y="670.4" width="1.1" height="1.1" fill="#a0ff60" opacity="0.78"/>
<rect x="877.3" y="669.7" width="1.1" height="1.1" fill="#a0ff60" opacity="0.63"/>
<rect x="882.4" y="671.6" width="1.1" height="1.1" fill="#0050ff" opacity="0.75"/>
<rect x="866.9" y="658.1" width="1.1" height="1.1" fill="#00a0ff" opacity="0.61"/>
<rect x="880.5" y="657.5" width="1.1" height="1.1" fill="#00e0f0" opacity="0.55"/>
<rect x="873.7" y="664.3" width="1.1" height="1.1" fill="#00a0ff" opacity="0.63"/>
<rect x="884.0" y="659.8" width="1.1" height="1.1" fill="#00e0f0" opacity="0.59"/>
<rect x="887.2" y="662.0" width="1.1" height="1.1" fill="#a0ff60" opacity="0.61"/>
<rect x="854.2" y="661.8" width="1.1" height="1.1" fill="#00e0f0" opacity="0.86"/>
<rect x="873.0" y="660.4" width="1.1" height="1.1" fill="#40ffc0" opacity="0.64"/>
<rect x="894.3" y="671.3" width="1.1" height="1.1" fill="#0000ff" opacity="0.66"/>
<rect x="852.7" y="662.9" width="1.1" height="1.1" fill="#0000ff" opacity="0.67"/>
<rect x="891.0" y="661.1" width="1.1" height="1.1" fill="#a0ff60" opacity="0.65"/>
<rect x="862.0" y="656.4" width="1.1" height="1.1" fill="#00a0ff" opacity="0.65"/>
<rect x="867.9" y="661.1" width="1.1" height="1.1" fill="#a0ff60" opacity="0.90"/>
<rect x="881.0" y="662.5" width="1.1" height="1.1" fill="#00a0ff" opacity="0.93"/>
<rect x="867.3" y="665.8" width="1.1" height="1.1" fill="#0050ff" opacity="0.85"/>
<rect x="880.3" y="666.6" width="1.1" height="1.1" fill="#00e0f0" opacity="0.78"/>
<rect x="852.7" y="657.2" width="1.1" height="1.1" fill="#00e0f0" opacity="0.90"/>
<rect x="868.3" y="671.5" width="1.1" height="1.1" fill="#0000ff" opacity="0.86"/>
<rect x="883.0" y="660.6" width="1.1" height="1.1" fill="#00e0f0" opacity="0.66"/>
<rect x="897.4" y="658.5" width="1.1" height="1.1" fill="#0050ff" opacity="0.62"/>
<rect x="862.2" y="659.7" width="1.1" height="1.1" fill="#40ffc0" opacity="0.50"/>
<rect x="876.2" y="662.7" width="1.1" height="1.1" fill="#0050ff" opacity="0.75"/>
<rect x="891.1" y="669.0" width="1.1" height="1.1" fill="#0000ff" opacity="0.78"/>
<rect x="877.0" y="670.1" width="1.1" height="1.1" fill="#00a0ff" opacity="0.62"/>
<rect x="854.7" y="656.3" width="1.1" height="1.1" fill="#a0ff60" opacity="0.59"/>
<rect x="869.0" y="658.7" width="1.1" height="1.1" fill="#0050ff" opacity="0.87"/>
<rect x="857.4" y="666.6" width="1.1" height="1.1" fill="#00e0f0" opacity="0.86"/>
<rect x="864.0" y="663.1" width="1.1" height="1.1" fill="#00a0ff" opacity="0.84"/>
<rect x="875.7" y="660.0" width="1.1" height="1.1" fill="#0050ff" opacity="0.66"/>
<rect x="884.1" y="671.6" width="1.1" height="1.1" fill="#a0ff60" opacity="0.56"/>
<rect x="852.7" y="657.2" width="1.1" height="1.1" fill="#0000ff" opacity="0.90"/>
<rect x="864.8" y="670.4" width="1.1" height="1.1" fill="#40ffc0" opacity="0.85"/>
<rect x="873.1" y="658.8" width="1.1" height="1.1" fill="#00e0f0" opacity="0.89"/>
<rect x="852.2" y="660.3" width="1.1" height="1.1" fill="#40ffc0" opacity="0.83"/>
<rect x="883.5" y="660.3" width="1.1" height="1.1" fill="#a0ff60" opacity="0.61"/>
<rect x="884.6" y="661.6" width="1.1" height="1.1" fill="#00a0ff" opacity="0.89"/>
<rect x="859.6" y="665.6" width="1.1" height="1.1" fill="#0050ff" opacity="0.76"/>
<rect x="870.2" y="668.0" width="1.1" height="1.1" fill="#40ffc0" opacity="0.83"/>
<rect x="862.8" y="658.7" width="1.1" height="1.1" fill="#0050ff" opacity="0.67"/>
<rect x="882.3" y="659.9" width="1.1" height="1.1" fill="#0050ff" opacity="0.94"/>
<rect x="872.7" y="667.8" width="1.1" height="1.1" fill="#0050ff" opacity="0.62"/>
<rect x="862.9" y="660.3" width="1.1" height="1.1" fill="#a0ff60" opacity="0.68"/>
<rect x="895.2" y="672.8" width="1.1" height="1.1" fill="#0000ff" opacity="0.57"/>
<rect x="898.4" y="670.8" width="1.1" height="1.1" fill="#0050ff" opacity="0.63"/>
<rect x="885.4" y="672.9" width="1.1" height="1.1" fill="#0000ff" opacity="0.68"/>
<rect x="893.8" y="670.2" width="1.1" height="1.1" fill="#00e0f0" opacity="0.58"/>
<rect x="852.9" y="663.5" width="1.1" height="1.1" fill="#a0ff60" opacity="0.63"/>
<rect x="868.8" y="666.5" width="1.1" height="1.1" fill="#0050ff" opacity="0.94"/>
<rect x="868.6" y="667.8" width="1.1" height="1.1" fill="#40ffc0" opacity="0.63"/>
<rect x="892.0" y="663.5" width="1.1" height="1.1" fill="#0000ff" opacity="0.75"/>
<rect x="893.4" y="671.0" width="1.1" height="1.1" fill="#00e0f0" opacity="0.55"/>
<rect x="865.4" y="656.3" width="1.1" height="1.1" fill="#40ffc0" opacity="0.76"/>
<rect x="863.0" y="662.8" width="1.1" height="1.1" fill="#00a0ff" opacity="0.60"/>
<rect x="873.2" y="662.2" width="1.1" height="1.1" fill="#00a0ff" opacity="0.75"/>
<rect x="857.0" y="656.1" width="1.1" height="1.1" fill="#00a0ff" opacity="0.80"/>
<rect x="849.8" y="661.7" width="1.1" height="1.1" fill="#0050ff" opacity="0.95"/>
<rect x="859.5" y="670.7" width="1.1" height="1.1" fill="#00e0f0" opacity="0.51"/>
<rect x="866.8" y="665.5" width="1.1" height="1.1" fill="#40ffc0" opacity="0.53"/>
<rect x="876.5" y="667.2" width="1.1" height="1.1" fill="#40ffc0" opacity="0.61"/>
<rect x="858.8" y="660.9" width="1.1" height="1.1" fill="#0050ff" opacity="0.95"/>
<rect x="871.3" y="670.2" width="1.1" height="1.1" fill="#a0ff60" opacity="0.52"/>
<rect x="891.5" y="672.1" width="1.1" height="1.1" fill="#40ffc0" opacity="0.55"/>
<rect x="853.3" y="662.1" width="1.1" height="1.1" fill="#40ffc0" opacity="0.64"/>
<rect x="874.7" y="656.2" width="1.1" height="1.1" fill="#0050ff" opacity="0.53"/>
<rect x="867.4" y="669.0" width="1.1" height="1.1" fill="#00a0ff" opacity="0.86"/>
<rect x="888.3" y="668.5" width="1.1" height="1.1" fill="#00e0f0" opacity="0.64"/>
<rect x="875.6" y="667.3" width="1.1" height="1.1" fill="#0000ff" opacity="0.92"/>
<rect x="873.2" y="670.3" width="1.1" height="1.1" fill="#00e0f0" opacity="0.61"/>
<rect x="894.1" y="656.4" width="1.1" height="1.1" fill="#40ffc0" opacity="0.56"/>
<rect x="865.4" y="668.3" width="1.1" height="1.1" fill="#40ffc0" opacity="0.80"/>
<rect x="889.2" y="662.2" width="1.1" height="1.1" fill="#a0ff60" opacity="0.70"/>
<rect x="864.9" y="657.1" width="1.1" height="1.1" fill="#a0ff60" opacity="0.64"/>
<rect x="854.2" y="661.7" width="1.1" height="1.1" fill="#a0ff60" opacity="0.58"/>
<rect x="851.9" y="658.2" width="1.1" height="1.1" fill="#00a0ff" opacity="0.81"/>
<rect x="858.3" y="657.8" width="1.1" height="1.1" fill="#0050ff" opacity="0.67"/>
<rect x="858.5" y="656.4" width="1.1" height="1.1" fill="#00e0f0" opacity="0.73"/>
<rect x="869.3" y="661.5" width="1.1" height="1.1" fill="#40ffc0" opacity="0.88"/>
<rect x="886.8" y="656.4" width="1.1" height="1.1" fill="#0050ff" opacity="0.64"/>
<rect x="886.5" y="657.8" width="1.1" height="1.1" fill="#00a0ff" opacity="0.69"/>
<rect x="896.7" y="659.7" width="1.1" height="1.1" fill="#00e0f0" opacity="0.85"/>
<rect x="893.0" y="669.8" width="1.1" height="1.1" fill="#0000ff" opacity="0.80"/>
<rect x="895.9" y="661.5" width="1.1" height="1.1" fill="#0050ff" opacity="0.85"/>
<rect x="875.3" y="656.2" width="1.1" height="1.1" fill="#a0ff60" opacity="0.79"/>
<rect x="868.1" y="666.9" width="1.1" height="1.1" fill="#0050ff" opacity="0.78"/>
<rect x="866.5" y="663.5" width="1.1" height="1.1" fill="#a0ff60" opacity="0.78"/>
<rect x="874.3" y="665.7" width="1.1" height="1.1" fill="#0000ff" opacity="0.55"/>
<rect x="885.7" y="668.7" width="1.1" height="1.1" fill="#00e0f0" opacity="0.80"/>
<rect x="870.1" y="662.5" width="1.1" height="1.1" fill="#0050ff" opacity="0.67"/>
<rect x="876.1" y="656.7" width="1.1" height="1.1" fill="#0000ff" opacity="0.74"/>
<rect x="871.7" y="660.8" width="1.1" height="1.1" fill="#0000ff" opacity="0.77"/>
<rect x="895.2" y="658.6" width="1.1" height="1.1" fill="#00e0f0" opacity="0.65"/>
<rect x="862.1" y="666.6" width="1.1" height="1.1" fill="#0050ff" opacity="0.83"/>
<rect x="898.0" y="662.8" width="1.1" height="1.1" fill="#0050ff" opacity="0.84"/>
<rect x="893.5" y="657.9" width="1.1" height="1.1" fill="#0050ff" opacity="0.88"/>
<rect x="881.3" y="671.9" width="1.1" height="1.1" fill="#0000ff" opacity="0.86"/>
<rect x="874.6" y="672.9" width="1.1" height="1.1" fill="#0000ff" opacity="0.58"/>
<rect x="851.5" y="661.8" width="1.1" height="1.1" fill="#40ffc0" opacity="0.86"/>
</g>
<clipPath id="cpc2b"><rect x="1297.3" y="420" width="49.8" height="220"/></clipPath>
<radialGradient id="jg_c2" cx="0.5" cy="0.5" r="0.5"><stop offset="0" stop-color="#f01000"/><stop offset="0.14" stop-color="#ff3000"/><stop offset="0.28" stop-color="#ff9000"/><stop offset="0.4" stop-color="#ffe000"/><stop offset="0.52" stop-color="#a0ff50"/><stop offset="0.64" stop-color="#30ffc0"/><stop offset="0.76" stop-color="#00c0ff"/><stop offset="0.88" stop-color="#0060ff"/><stop offset="1" stop-color="#0020e0"/></radialGradient>
<g clip-path="url(#cpc2b)">
<ellipse cx="1321.5" cy="527" rx="18" ry="97" fill="url(#jg_c2)" transform="rotate(-15 1321.5 527)"/>
</g>
<rect x="1301.1" y="440.0" width="1.1" height="1.1" fill="#00e0f0" opacity="0.59"/>
<rect x="1299.5" y="441.4" width="1.1" height="1.1" fill="#0000ff" opacity="0.55"/>
<rect x="1301.0" y="442.8" width="1.1" height="1.1" fill="#0050ff" opacity="0.53"/>
<rect x="1301.5" y="433.7" width="1.1" height="1.1" fill="#40ffc0" opacity="0.94"/>
<rect x="1297.6" y="445.2" width="1.1" height="1.1" fill="#00a0ff" opacity="0.58"/>
<rect x="1300.0" y="445.1" width="1.1" height="1.1" fill="#0050ff" opacity="0.88"/>
<rect x="1298.1" y="435.4" width="1.1" height="1.1" fill="#00e0f0" opacity="0.51"/>
<rect x="1303.1" y="439.1" width="1.1" height="1.1" fill="#00e0f0" opacity="0.53"/>
<rect x="1305.9" y="435.7" width="1.1" height="1.1" fill="#00a0ff" opacity="0.89"/>
<rect x="1303.5" y="435.6" width="1.1" height="1.1" fill="#00e0f0" opacity="0.67"/>
<rect x="1304.3" y="442.1" width="1.1" height="1.1" fill="#00a0ff" opacity="0.80"/>
<rect x="1298.9" y="435.7" width="1.1" height="1.1" fill="#0050ff" opacity="0.58"/>
<rect x="1302.2" y="433.5" width="1.1" height="1.1" fill="#00a0ff" opacity="0.55"/>
<rect x="1305.5" y="440.9" width="1.1" height="1.1" fill="#00a0ff" opacity="0.64"/>
<rect x="1297.1" y="433.9" width="1.1" height="1.1" fill="#0050ff" opacity="0.83"/>
<rect x="1300.2" y="437.0" width="1.1" height="1.1" fill="#00e0f0" opacity="0.59"/>
<rect x="1297.6" y="436.5" width="1.1" height="1.1" fill="#00a0ff" opacity="0.87"/>
<rect x="1300.7" y="438.9" width="1.1" height="1.1" fill="#40ffc0" opacity="0.56"/>
<rect x="1297.9" y="439.7" width="1.1" height="1.1" fill="#00e0f0" opacity="0.61"/>
<rect x="1302.2" y="436.7" width="1.1" height="1.1" fill="#00a0ff" opacity="0.93"/>
<rect x="1297.7" y="441.4" width="1.1" height="1.1" fill="#0050ff" opacity="0.92"/>
<rect x="1300.5" y="442.7" width="1.1" height="1.1" fill="#40ffc0" opacity="0.60"/>
<rect x="1302.8" y="437.8" width="1.1" height="1.1" fill="#00a0ff" opacity="0.63"/>
<rect x="1301.0" y="445.4" width="1.1" height="1.1" fill="#00a0ff" opacity="0.80"/>
<rect x="1297.1" y="440.9" width="1.1" height="1.1" fill="#0000ff" opacity="0.69"/>
<rect x="1298.2" y="444.6" width="1.1" height="1.1" fill="#00a0ff" opacity="0.67"/>
<rect x="1299.5" y="434.3" width="1.1" height="1.1" fill="#40ffc0" opacity="0.55"/>
<rect x="1302.9" y="438.9" width="1.1" height="1.1" fill="#0050ff" opacity="0.54"/>
<rect x="1300.3" y="437.9" width="1.1" height="1.1" fill="#40ffc0" opacity="0.80"/>
<rect x="1300.1" y="444.7" width="1.1" height="1.1" fill="#0000ff" opacity="0.80"/>
<rect x="1298.4" y="433.9" width="1.1" height="1.1" fill="#0050ff" opacity="0.71"/>
<rect x="1299.8" y="441.7" width="1.1" height="1.1" fill="#40ffc0" opacity="0.53"/>
<rect x="1299.0" y="433.3" width="1.1" height="1.1" fill="#00e0f0" opacity="0.70"/>
<rect x="1299.1" y="440.0" width="1.1" height="1.1" fill="#0000ff" opacity="0.95"/>
<rect x="1297.6" y="439.0" width="1.1" height="1.1" fill="#00e0f0" opacity="0.86"/>
<rect x="1305.4" y="439.7" width="1.1" height="1.1" fill="#40ffc0" opacity="0.59"/>
<rect x="1300.3" y="434.9" width="1.1" height="1.1" fill="#00e0f0" opacity="0.54"/>
<rect x="1304.2" y="433.0" width="1.1" height="1.1" fill="#40ffc0" opacity="0.85"/>
<rect x="1305.2" y="441.6" width="1.1" height="1.1" fill="#00e0f0" opacity="0.85"/>
<rect x="1298.1" y="439.1" width="1.1" height="1.1" fill="#0000ff" opacity="0.67"/>
<rect x="1341.3" y="621.7" width="1.1" height="1.1" fill="#0000ff" opacity="0.55"/>
<rect x="1341.7" y="617.9" width="1.1" height="1.1" fill="#0000ff" opacity="0.85"/>
<rect x="1338.8" y="624.0" width="1.1" height="1.1" fill="#40ffc0" opacity="0.56"/>
<rect x="1343.1" y="611.8" width="1.1" height="1.1" fill="#0000ff" opacity="0.73"/>
<rect x="1340.8" y="614.9" width="1.1" height="1.1" fill="#0050ff" opacity="0.61"/>
<rect x="1341.7" y="610.8" width="1.1" height="1.1" fill="#0050ff" opacity="0.76"/>
<rect x="1339.5" y="611.5" width="1.1" height="1.1" fill="#0050ff" opacity="0.88"/>
<rect x="1338.9" y="621.9" width="1.1" height="1.1" fill="#0050ff" opacity="0.56"/>
<rect x="1343.1" y="612.4" width="1.1" height="1.1" fill="#40ffc0" opacity="0.78"/>
<rect x="1345.8" y="623.5" width="1.1" height="1.1" fill="#00e0f0" opacity="0.87"/>
<rect x="1340.1" y="621.2" width="1.1" height="1.1" fill="#0000ff" opacity="0.83"/>
<rect x="1344.4" y="612.2" width="1.1" height="1.1" fill="#40ffc0" opacity="0.78"/>
<rect x="1341.6" y="616.9" width="1.1" height="1.1" fill="#40ffc0" opacity="0.79"/>
<rect x="1345.6" y="610.6" width="1.1" height="1.1" fill="#00e0f0" opacity="0.63"/>
<rect x="1339.9" y="617.5" width="1.1" height="1.1" fill="#00e0f0" opacity="0.65"/>
<rect x="1342.4" y="619.2" width="1.1" height="1.1" fill="#40ffc0" opacity="0.93"/>
<rect x="1343.1" y="617.0" width="1.1" height="1.1" fill="#0000ff" opacity="0.68"/>
<rect x="1340.7" y="620.4" width="1.1" height="1.1" fill="#00a0ff" opacity="0.60"/>
<rect x="1338.8" y="621.1" width="1.1" height="1.1" fill="#00e0f0" opacity="0.66"/>
<rect x="1341.9" y="616.3" width="1.1" height="1.1" fill="#0000ff" opacity="0.64"/>
<rect x="1342.8" y="612.3" width="1.1" height="1.1" fill="#00e0f0" opacity="0.75"/>
<rect x="1341.6" y="613.1" width="1.1" height="1.1" fill="#0000ff" opacity="0.82"/>
<rect x="1338.3" y="615.0" width="1.1" height="1.1" fill="#0050ff" opacity="0.73"/>
<rect x="1342.7" y="620.3" width="1.1" height="1.1" fill="#00a0ff" opacity="0.68"/>
<rect x="1346.7" y="610.1" width="1.1" height="1.1" fill="#40ffc0" opacity="0.66"/>
<rect x="1340.2" y="623.5" width="1.1" height="1.1" fill="#00a0ff" opacity="0.88"/>
<rect x="1339.9" y="620.7" width="1.1" height="1.1" fill="#0000ff" opacity="0.64"/>
<rect x="1342.5" y="617.2" width="1.1" height="1.1" fill="#00a0ff" opacity="0.52"/>
<rect x="1338.8" y="613.5" width="1.1" height="1.1" fill="#00a0ff" opacity="0.86"/>
<rect x="1346.5" y="619.1" width="1.1" height="1.1" fill="#00a0ff" opacity="0.68"/>
<rect x="1340.6" y="619.5" width="1.1" height="1.1" fill="#0000ff" opacity="0.68"/>
<rect x="1340.0" y="613.5" width="1.1" height="1.1" fill="#0000ff" opacity="0.64"/>
<rect x="1345.4" y="621.0" width="1.1" height="1.1" fill="#00a0ff" opacity="0.53"/>
<rect x="1344.9" y="610.7" width="1.1" height="1.1" fill="#40ffc0" opacity="0.54"/>
<rect x="1339.2" y="614.8" width="1.1" height="1.1" fill="#0000ff" opacity="0.78"/>
<rect x="1344.1" y="613.0" width="1.1" height="1.1" fill="#40ffc0" opacity="0.50"/>
<rect x="1344.6" y="615.9" width="1.1" height="1.1" fill="#0000ff" opacity="0.58"/>
<rect x="1338.8" y="619.6" width="1.1" height="1.1" fill="#0050ff" opacity="0.67"/>
<rect x="1342.0" y="616.1" width="1.1" height="1.1" fill="#0000ff" opacity="0.70"/>
<rect x="1346.1" y="620.2" width="1.1" height="1.1" fill="#0000ff" opacity="0.93"/>
<rect x="162.6" y="129.4" width="412.90" height="247.00" fill="none" stroke="#000" stroke-width="2.75"/>
<rect x="610.4" y="131.6" width="416.20" height="245.80" fill="none" stroke="#000" stroke-width="2.75"/>
<rect x="1056.6" y="132.5" width="414.80" height="245.30" fill="none" stroke="#000" stroke-width="2.75"/>
<rect x="163.75" y="421.4" width="409.95" height="290.90" fill="none" stroke="#000" stroke-width="2.75"/>
<rect x="609.4" y="420.6" width="412.20" height="294.70" fill="none" stroke="#000" stroke-width="2.75"/>
<rect x="1057.6" y="417.6" width="411.50" height="295.60" fill="none" stroke="#000" stroke-width="2.75"/>
<rect x="174.9" y="12.7" width="390.90" height="21.30" fill="url(#g_rb)" stroke="#000" stroke-width="2"/>
<rect x="621.0" y="13.3" width="382.40" height="21.30" fill="url(#g_bl)" stroke="#000" stroke-width="2"/>
<rect x="1067.0" y="13.2" width="392.00" height="21.40" fill="url(#g_se)" stroke="#000" stroke-width="2"/>
<line x1="174.90" y1="34.00" x2="174.90" y2="41.80" stroke="#000" stroke-width="1.6"/>
<text transform="translate(167.68,69.41) scale(1.0000,1)" font-size="28.89" font-style="normal">0</text>
<line x1="253.10" y1="34.00" x2="253.10" y2="41.80" stroke="#000" stroke-width="1.6"/>
<text transform="translate(245.34,69.70) scale(1.0000,1)" font-size="29.55" font-style="normal">1</text>
<line x1="331.30" y1="34.00" x2="331.30" y2="41.80" stroke="#000" stroke-width="1.6"/>
<text transform="translate(324.06,69.70) scale(1.0000,1)" font-size="29.55" font-style="normal">2</text>
<line x1="409.50" y1="34.00" x2="409.50" y2="41.80" stroke="#000" stroke-width="1.6"/>
<text transform="translate(402.15,69.41) scale(1.0000,1)" font-size="29.10" font-style="normal">3</text>
<line x1="487.70" y1="34.00" x2="487.70" y2="41.80" stroke="#000" stroke-width="1.6"/>
<text transform="translate(480.24,69.70) scale(1.0000,1)" font-size="29.55" font-style="normal">4</text>
<line x1="565.90" y1="34.00" x2="565.90" y2="41.80" stroke="#000" stroke-width="1.6"/>
<text transform="translate(558.28,69.41) scale(1.0000,1)" font-size="29.32" font-style="normal">5</text>
<line x1="664.10" y1="34.60" x2="664.10" y2="42.20" stroke="#000" stroke-width="1.6"/>
<text transform="translate(646.39,70.07) scale(1.0000,1)" font-size="28.68" font-style="normal">0.2</text>
<line x1="749.00" y1="34.60" x2="749.00" y2="42.20" stroke="#000" stroke-width="1.6"/>
<text transform="translate(730.72,70.07) scale(1.0000,1)" font-size="28.68" font-style="normal">0.4</text>
<line x1="833.90" y1="34.60" x2="833.90" y2="42.20" stroke="#000" stroke-width="1.6"/>
<text transform="translate(815.83,70.07) scale(1.0000,1)" font-size="28.68" font-style="normal">0.6</text>
<line x1="918.80" y1="34.60" x2="918.80" y2="42.20" stroke="#000" stroke-width="1.6"/>
<text transform="translate(900.88,70.07) scale(1.0000,1)" font-size="28.68" font-style="normal">0.8</text>
<line x1="1003.70" y1="34.60" x2="1003.70" y2="42.20" stroke="#000" stroke-width="1.6"/>
<text transform="translate(985.13,70.07) scale(1.0000,1)" font-size="28.68" font-style="normal">1.0</text>
<line x1="1106.40" y1="34.60" x2="1106.40" y2="42.20" stroke="#000" stroke-width="1.6"/>
<text transform="translate(1090.28,68.10) scale(1.0000,1)" font-size="29.32" font-style="normal">−4</text>
<line x1="1184.65" y1="34.60" x2="1184.65" y2="42.20" stroke="#000" stroke-width="1.6"/>
<text transform="translate(1169.11,68.10) scale(1.0000,1)" font-size="29.32" font-style="normal">−2</text>
<line x1="1262.90" y1="34.60" x2="1262.90" y2="42.20" stroke="#000" stroke-width="1.6"/>
<text transform="translate(1255.49,70.30) scale(1.0000,1)" font-size="29.63" font-style="normal">0</text>
<line x1="1341.15" y1="34.60" x2="1341.15" y2="42.20" stroke="#000" stroke-width="1.6"/>
<text transform="translate(1333.97,68.10) scale(1.0000,1)" font-size="29.32" font-style="normal">2</text>
<line x1="1419.40" y1="34.60" x2="1419.40" y2="42.20" stroke="#000" stroke-width="1.6"/>
<text transform="translate(1412.00,68.10) scale(1.0000,1)" font-size="29.32" font-style="normal">4</text>
<text transform="translate(331.54,107.80) scale(0.9837,1)" font-size="36.60" font-style="italic">n</text>
<text transform="translate(349.80,114.72) scale(0.8354,1)" font-size="27.52" font-style="italic">b</text>
<text transform="translate(365.00,111.46) scale(1.1395,1)" font-size="43.88" font-style="normal">/</text>
<text transform="translate(381.54,107.80) scale(0.9837,1)" font-size="36.60" font-style="italic">n</text>
<text transform="translate(399.30,113.11) scale(0.8132,1)" font-size="28.54" font-style="italic">c</text>
<text transform="translate(497.17,108.03) scale(0.9433,1)" font-size="34.81" font-style="normal">×</text>
<text transform="translate(515.53,103.71) scale(0.9353,1)" font-size="28.59" font-style="normal">10</text>
<text transform="translate(541.80,97.23) scale(1.0008,1)" font-size="26.00" font-style="normal">−</text>
<text transform="translate(556.49,93.90) scale(0.9333,1)" font-size="22.12" font-style="normal">4</text>
<text transform="translate(774.64,109.00) scale(0.9756,1)" font-size="37.02" font-style="italic">n</text>
<text transform="translate(791.75,112.30) scale(0.9333,1)" font-size="20.00" font-style="italic">0</text>
<text transform="translate(806.90,112.06) scale(1.1105,1)" font-size="43.88" font-style="normal">/</text>
<text transform="translate(823.14,109.00) scale(0.9724,1)" font-size="37.02" font-style="italic">n</text>
<text transform="translate(841.23,113.12) scale(0.7960,1)" font-size="27.92" font-style="italic">c</text>
<text transform="translate(935.85,108.49) scale(0.9214,1)" font-size="34.57" font-style="normal">×</text>
<text transform="translate(953.94,104.60) scale(0.8987,1)" font-size="29.63" font-style="normal">10</text>
<text transform="translate(980.40,97.53) scale(1.0008,1)" font-size="26.00" font-style="normal">−</text>
<text transform="translate(994.56,94.48) scale(0.9427,1)" font-size="22.24" font-style="normal">3</text>
<text transform="translate(1187.70,110.60) scale(0.8031,1)" font-size="37.25" font-style="italic">E</text>
<text transform="translate(1206.88,115.71) scale(0.7199,1)" font-size="30.67" font-style="italic">y</text>
<text transform="translate(1232.89,112.86) scale(0.5664,1)" font-size="42.53" font-style="normal">[</text>
<text transform="translate(1239.82,110.53) scale(0.8493,1)" font-size="37.78" font-style="normal">GV</text>
<text transform="translate(1288.90,113.86) scale(1.1932,1)" font-size="43.58" font-style="normal">/</text>
<text transform="translate(1304.07,110.60) scale(1.0362,1)" font-size="35.11" font-style="normal">m</text>
<text transform="translate(1332.18,112.86) scale(0.5539,1)" font-size="42.53" font-style="normal">]</text>
<text transform="translate(1405.61,108.49) scale(0.9357,1)" font-size="34.57" font-style="normal">×</text>
<text transform="translate(1423.94,104.50) scale(0.8987,1)" font-size="29.63" font-style="normal">10</text>
<text transform="translate(1449.16,94.68) scale(0.9364,1)" font-size="22.39" font-style="normal">3</text>
<line x1="155.50" y1="170.50" x2="161.30" y2="170.50" stroke="#000" stroke-width="1.6"/>
<line x1="155.50" y1="252.60" x2="161.30" y2="252.60" stroke="#000" stroke-width="1.6"/>
<line x1="155.50" y1="334.70" x2="161.30" y2="334.70" stroke="#000" stroke-width="1.6"/>
<text transform="translate(92.46,181.51) scale(1.0000,1)" font-size="32.35" font-style="normal">0.02</text>
<text transform="translate(91.37,264.31) scale(1.0000,1)" font-size="32.94" font-style="normal">0.00</text>
<text transform="translate(69.26,343.82) scale(1.0818,1)" font-size="32.21" font-style="normal">−0.02</text>
<text transform="translate(41.19,310.13) rotate(-90) scale(0.8105,1)" font-size="35.85" font-style="italic">y</text>
<text transform="translate(42.75,280.50) rotate(-90) scale(0.5046,1)" font-size="39.64" font-style="normal">[</text>
<text transform="translate(40.10,273.81) rotate(-90) scale(1.1420,1)" font-size="31.06" font-style="normal">mm</text>
<text transform="translate(42.75,218.29) rotate(-90) scale(0.5718,1)" font-size="39.64" font-style="normal">]</text>
<text transform="translate(183.80,164.52) scale(0.9456,1)" font-size="35.27" font-style="normal">(a1)</text>
<text transform="translate(633.41,163.90) scale(0.9748,1)" font-size="33.96" font-style="normal">(b1)</text>
<text transform="translate(1073.40,167.48) scale(0.9648,1)" font-size="34.51" font-style="normal">(c1)</text>
<line x1="1472.80" y1="132.90" x2="1478.60" y2="132.90" stroke="#000" stroke-width="1.6"/>
<line x1="1472.80" y1="255.40" x2="1478.60" y2="255.40" stroke="#000" stroke-width="1.6"/>
<line x1="1472.80" y1="377.90" x2="1478.60" y2="377.90" stroke="#000" stroke-width="1.6"/>
<text transform="translate(1484.24,144.75) scale(0.9200,1)" font-size="35.26" font-style="normal">200</text>
<text transform="translate(1484.65,267.64) scale(0.8629,1)" font-size="36.15" font-style="normal">0</text>
<text transform="translate(1485.94,389.64) scale(0.9897,1)" font-size="35.56" font-style="normal">−200</text>
<text transform="translate(1583.60,348.00) rotate(-90) scale(0.8767,1)" font-size="34.50" font-style="italic">E</text>
<text transform="translate(1588.30,327.36) rotate(-90) scale(1.0544,1)" font-size="27.61" font-style="italic">x</text>
<text transform="translate(1585.76,297.01) rotate(-90) scale(0.6913,1)" font-size="38.80" font-style="normal">[</text>
<text transform="translate(1583.88,289.85) rotate(-90) scale(1.0480,1)" font-size="34.67" font-style="normal">GV</text>
<text transform="translate(1586.31,234.50) rotate(-90) scale(1.3432,1)" font-size="39.25" font-style="normal">/</text>
<text transform="translate(1583.60,217.69) rotate(-90) scale(1.2007,1)" font-size="32.98" font-style="normal">m</text>
<text transform="translate(1585.60,186.13) rotate(-90) scale(0.5318,1)" font-size="39.28" font-style="normal">]</text>
<line x1="156.40" y1="421.00" x2="162.40" y2="421.00" stroke="#000" stroke-width="1.6"/>
<text transform="translate(85.82,431.93) scale(1.0000,1)" font-size="31.85" font-style="normal">1200</text>
<line x1="156.40" y1="517.90" x2="162.40" y2="517.90" stroke="#000" stroke-width="1.6"/>
<text transform="translate(86.94,528.83) scale(1.0000,1)" font-size="31.85" font-style="normal">1100</text>
<line x1="156.40" y1="615.10" x2="162.40" y2="615.10" stroke="#000" stroke-width="1.6"/>
<text transform="translate(85.82,626.03) scale(1.0000,1)" font-size="31.85" font-style="normal">1000</text>
<line x1="156.40" y1="712.10" x2="162.40" y2="712.10" stroke="#000" stroke-width="1.6"/>
<text transform="translate(101.75,723.03) scale(1.0000,1)" font-size="31.85" font-style="normal">900</text>
<text transform="translate(49.00,627.76) rotate(-90) scale(0.8339,1)" font-size="33.74" font-style="italic">P</text>
<text transform="translate(53.80,610.96) rotate(-90) scale(0.8848,1)" font-size="25.87" font-style="italic">x</text>
<text transform="translate(52.57,596.20) rotate(-90) scale(1.0087,1)" font-size="42.54" font-style="normal">/</text>
<text transform="translate(49.06,576.15) rotate(-90) scale(0.7632,1)" font-size="36.48" font-style="normal">(</text>
<text transform="translate(48.69,567.26) rotate(-90) scale(0.9714,1)" font-size="31.25" font-style="italic">mc</text>
<text transform="translate(49.06,529.03) rotate(-90) scale(0.7590,1)" font-size="36.48" font-style="normal">)</text>
<text transform="translate(180.89,458.93) scale(0.9805,1)" font-size="34.29" font-style="normal">(a2)</text>
<text transform="translate(632.89,455.33) scale(0.9678,1)" font-size="34.73" font-style="normal">(b2)</text>
<text transform="translate(1073.49,458.68) scale(0.9869,1)" font-size="34.07" font-style="normal">(c2)</text>
<line x1="223.80" y1="713.60" x2="223.80" y2="719.30" stroke="#000" stroke-width="1.6"/>
<text transform="translate(195.88,747.32) scale(1.0000,1)" font-size="31.91" font-style="normal">0.05</text>
<line x1="394.60" y1="713.60" x2="394.60" y2="719.30" stroke="#000" stroke-width="1.6"/>
<text transform="translate(366.68,747.32) scale(1.0000,1)" font-size="31.91" font-style="normal">0.10</text>
<line x1="565.40" y1="713.60" x2="565.40" y2="719.30" stroke="#000" stroke-width="1.6"/>
<text transform="translate(537.48,747.32) scale(1.0000,1)" font-size="31.91" font-style="normal">0.15</text>
<line x1="670.10" y1="716.60" x2="670.10" y2="722.20" stroke="#000" stroke-width="1.6"/>
<text transform="translate(639.55,750.23) scale(1.1200,1)" font-size="31.18" font-style="normal">0.35</text>
<line x1="842.00" y1="716.60" x2="842.00" y2="722.20" stroke="#000" stroke-width="1.6"/>
<text transform="translate(811.45,750.23) scale(1.1200,1)" font-size="31.18" font-style="normal">0.40</text>
<line x1="1013.60" y1="716.60" x2="1013.60" y2="722.20" stroke="#000" stroke-width="1.6"/>
<text transform="translate(983.05,750.23) scale(1.1200,1)" font-size="31.18" font-style="normal">0.45</text>
<line x1="1116.30" y1="714.50" x2="1116.30" y2="720.20" stroke="#000" stroke-width="1.6"/>
<text transform="translate(1087.89,747.54) scale(1.0700,1)" font-size="30.88" font-style="normal">0.90</text>
<line x1="1288.50" y1="714.50" x2="1288.50" y2="720.20" stroke="#000" stroke-width="1.6"/>
<text transform="translate(1260.09,747.54) scale(1.0700,1)" font-size="30.88" font-style="normal">0.95</text>
<line x1="1460.00" y1="714.50" x2="1460.00" y2="720.20" stroke="#000" stroke-width="1.6"/>
<text transform="translate(1430.84,747.54) scale(1.0700,1)" font-size="30.88" font-style="normal">1.00</text>
<text transform="translate(318.41,789.10) scale(1.0222,1)" font-size="33.37" font-style="italic">x</text>
<text transform="translate(349.60,790.89) scale(0.5941,1)" font-size="37.11" font-style="normal">[</text>
<text transform="translate(356.89,788.75) scale(1.1177,1)" font-size="31.91" font-style="normal">mm</text>
<text transform="translate(413.15,790.89) scale(0.5809,1)" font-size="37.11" font-style="normal">]</text>
<text transform="translate(760.75,790.70) scale(1.1313,1)" font-size="32.61" font-style="italic">x</text>
<text transform="translate(794.36,792.59) scale(0.6982,1)" font-size="37.11" font-style="normal">[</text>
<text transform="translate(802.42,790.30) scale(1.2602,1)" font-size="31.06" font-style="normal">mm</text>
<text transform="translate(863.21,792.59) scale(0.6827,1)" font-size="37.11" font-style="normal">]</text>
<text transform="translate(1211.53,788.30) scale(1.0767,1)" font-size="32.61" font-style="italic">x</text>
<text transform="translate(1243.29,790.57) scale(0.6471,1)" font-size="37.23" font-style="normal">[</text>
<text transform="translate(1250.86,788.30) scale(1.1906,1)" font-size="31.06" font-style="normal">mm</text>
<text transform="translate(1308.09,790.57) scale(0.6208,1)" font-size="37.23" font-style="normal">]</text>
<rect x="1536.7" y="417.7" width="16.1" height="295.3" fill="url(#g_jet)" stroke="#000" stroke-width="2"/>
<line x1="1529.00" y1="476.30" x2="1535.80" y2="476.30" stroke="#000" stroke-width="1.6"/>
<text transform="translate(1486.01,485.25) scale(0.9413,1)" font-size="24.89" font-style="normal">10</text>
<text transform="translate(1509.23,476.51) scale(1.3822,1)" font-size="18.51" font-style="normal">9</text>
<line x1="1529.00" y1="594.70" x2="1535.80" y2="594.70" stroke="#000" stroke-width="1.6"/>
<text transform="translate(1486.01,603.65) scale(0.9413,1)" font-size="24.89" font-style="normal">10</text>
<text transform="translate(1508.23,595.10) scale(1.4347,1)" font-size="18.93" font-style="normal">7</text>
<line x1="1529.00" y1="713.00" x2="1535.80" y2="713.00" stroke="#000" stroke-width="1.6"/>
<text transform="translate(1486.01,721.95) scale(0.9413,1)" font-size="24.89" font-style="normal">10</text>
<text transform="translate(1508.35,713.21) scale(1.4748,1)" font-size="18.65" font-style="normal">5</text>
<text transform="translate(1578.10,581.87) rotate(-90) scale(0.9097,1)" font-size="28.40" font-style="italic">N</text>
<text transform="translate(1582.70,564.66) rotate(-90) scale(0.8045,1)" font-size="19.72" font-style="italic">b</text>
</svg></body></html>
